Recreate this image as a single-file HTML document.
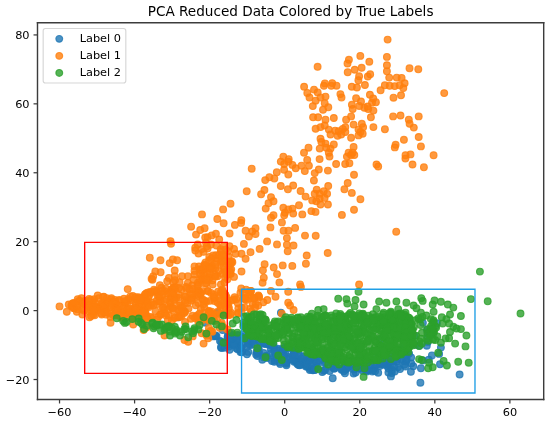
<!DOCTYPE html>
<html><head><meta charset="utf-8"><title>PCA Reduced Data Colored by True Labels</title>
<style>html,body{margin:0;padding:0;background:#fff;width:550px;height:424px;overflow:hidden}svg{display:block}text{font-family:"DejaVu Sans","Liberation Sans",sans-serif}</style>
</head><body>
<svg width="550px" height="424px" viewBox="0 0 485.294118 374.117647" version="1.1">
 
 <defs>
  <style type="text/css">*{stroke-linejoin: round; stroke-linecap: butt}</style>
 </defs>
 <g id="figure_1">
  <g id="patch_1">
   <path d="M 0 374.117647 
L 485.294118 374.117647 
L 485.294118 0 
L 0 0 
z
" style="fill: #ffffff"/>
  </g>
  <g id="axes_1">
   <g id="patch_2">
    <path d="M 33.088235 352.5 
L 479.735294 352.5 
L 479.735294 20.117647 
L 33.088235 20.117647 
z
" style="fill: #ffffff"/>
   </g>
   <defs>
     <path id="m00aa279ec9" d="M 0 3 
C 0.795609 3 1.55874 2.683901 2.12132 2.12132 
C 2.683901 1.55874 3 0.795609 3 0 
C 3 -0.795609 2.683901 -1.55874 2.12132 -2.12132 
C 1.55874 -2.683901 0.795609 -3 0 -3 
C -0.795609 -3 -1.55874 -2.683901 -2.12132 -2.12132 
C -2.683901 -1.55874 -3 -0.795609 -3 0 
C -3 0.795609 -2.683901 1.55874 -2.12132 2.12132 
C -1.55874 2.683901 -0.795609 3 0 3 
z
" style="stroke: #1f77b4; stroke-opacity: 0.8"/>
    </defs><g clip-path="url(#p1e4c1212a1)" style="fill:#1f77b4;fill-opacity:0.8;stroke:#1f77b4;stroke-opacity:0.8"><circle cx="157.24" cy="279.97" r="3"/><circle cx="192.54" cy="275.91" r="3"/><circle cx="181.33" cy="284.73" r="3"/><circle cx="187.68" cy="296.82" r="3"/><circle cx="194.12" cy="300.79" r="3"/><circle cx="194.92" cy="306.44" r="3"/><circle cx="208.59" cy="307.23" r="3"/><circle cx="210.89" cy="303.97" r="3"/><circle cx="247.86" cy="275.91" r="3"/><circle cx="385.50" cy="285.26" r="3"/><circle cx="356.12" cy="286.32" r="3"/><circle cx="381.00" cy="293.55" r="3"/><circle cx="356.92" cy="294.35" r="3"/><circle cx="389.03" cy="306.70" r="3"/><circle cx="388.24" cy="321.35" r="3"/><circle cx="405.54" cy="330.44" r="3"/><circle cx="371.39" cy="324.88" r="3"/><circle cx="370.95" cy="337.67" r="3"/><circle cx="344.92" cy="332.11" r="3"/><circle cx="352.95" cy="325.67" r="3"/><circle cx="333.71" cy="328.85" r="3"/><circle cx="293.57" cy="333.70" r="3"/><circle cx="312.01" cy="329.64" r="3"/><circle cx="362.56" cy="328.05" r="3"/><circle cx="360.98" cy="312.00" r="3"/><circle cx="209.25" cy="295.61" r="3"/><circle cx="261.05" cy="318.82" r="3"/><circle cx="345.45" cy="318.05" r="3"/><circle cx="284.39" cy="328.32" r="3"/><circle cx="259.03" cy="309.34" r="3"/><circle cx="364.67" cy="323.15" r="3"/><circle cx="201.38" cy="294.28" r="3"/><circle cx="296.67" cy="315.81" r="3"/><circle cx="227.86" cy="307.18" r="3"/><circle cx="259.54" cy="319.12" r="3"/><circle cx="337.08" cy="317.72" r="3"/><circle cx="217.89" cy="312.61" r="3"/><circle cx="236.89" cy="301.89" r="3"/><circle cx="301.63" cy="325.53" r="3"/><circle cx="259.26" cy="311.89" r="3"/><circle cx="228.34" cy="307.00" r="3"/><circle cx="245.18" cy="311.79" r="3"/><circle cx="249.37" cy="309.77" r="3"/><circle cx="272.96" cy="315.52" r="3"/><circle cx="323.26" cy="326.81" r="3"/><circle cx="329.92" cy="325.06" r="3"/><circle cx="212.24" cy="306.98" r="3"/><circle cx="301.70" cy="325.21" r="3"/><circle cx="227.43" cy="308.88" r="3"/><circle cx="212.22" cy="310.64" r="3"/><circle cx="232.57" cy="311.46" r="3"/><circle cx="234.57" cy="314.00" r="3"/><circle cx="224.89" cy="304.02" r="3"/><circle cx="270.06" cy="319.20" r="3"/><circle cx="258.18" cy="314.51" r="3"/><circle cx="294.48" cy="324.67" r="3"/><circle cx="268.34" cy="319.26" r="3"/><circle cx="344.25" cy="319.48" r="3"/><circle cx="320.17" cy="327.27" r="3"/><circle cx="276.13" cy="325.66" r="3"/><circle cx="362.90" cy="320.71" r="3"/><circle cx="362.77" cy="315.39" r="3"/><circle cx="313.79" cy="328.60" r="3"/><circle cx="252.07" cy="312.59" r="3"/><circle cx="232.85" cy="315.34" r="3"/><circle cx="206.81" cy="302.24" r="3"/><circle cx="307.77" cy="323.50" r="3"/><circle cx="273.36" cy="326.45" r="3"/><circle cx="274.07" cy="325.49" r="3"/><circle cx="228.70" cy="311.38" r="3"/><circle cx="345.65" cy="329.10" r="3"/><circle cx="348.93" cy="312.42" r="3"/><circle cx="285.38" cy="314.48" r="3"/><circle cx="242.66" cy="318.17" r="3"/><circle cx="329.15" cy="326.39" r="3"/><circle cx="235.58" cy="314.34" r="3"/><circle cx="231.42" cy="317.38" r="3"/><circle cx="280.17" cy="323.69" r="3"/><circle cx="279.10" cy="320.67" r="3"/><circle cx="345.78" cy="326.47" r="3"/><circle cx="284.29" cy="316.90" r="3"/><circle cx="225.37" cy="299.39" r="3"/><circle cx="304.77" cy="325.98" r="3"/><circle cx="304.70" cy="319.74" r="3"/><circle cx="204.94" cy="295.04" r="3"/><circle cx="254.67" cy="314.91" r="3"/><circle cx="205.96" cy="302.99" r="3"/><circle cx="245.12" cy="307.74" r="3"/><circle cx="344.21" cy="323.14" r="3"/><circle cx="266.65" cy="321.63" r="3"/><circle cx="303.39" cy="327.54" r="3"/><circle cx="237.12" cy="303.14" r="3"/><circle cx="322.66" cy="323.14" r="3"/><circle cx="330.01" cy="321.16" r="3"/><circle cx="238.88" cy="311.80" r="3"/><circle cx="237.49" cy="304.21" r="3"/><circle cx="234.14" cy="303.29" r="3"/><circle cx="263.46" cy="322.03" r="3"/><circle cx="315.18" cy="322.27" r="3"/><circle cx="250.62" cy="313.85" r="3"/><circle cx="250.90" cy="313.81" r="3"/><circle cx="238.82" cy="307.90" r="3"/><circle cx="281.24" cy="311.82" r="3"/><circle cx="243.97" cy="314.91" r="3"/><circle cx="252.71" cy="322.23" r="3"/><circle cx="323.63" cy="327.90" r="3"/><circle cx="227.36" cy="311.57" r="3"/><circle cx="249.72" cy="310.08" r="3"/><circle cx="220.10" cy="298.93" r="3"/><circle cx="226.01" cy="312.86" r="3"/><circle cx="335.12" cy="323.02" r="3"/><circle cx="210.81" cy="303.57" r="3"/><circle cx="334.50" cy="314.90" r="3"/><circle cx="263.07" cy="311.53" r="3"/><circle cx="263.61" cy="318.45" r="3"/><circle cx="291.45" cy="323.40" r="3"/><circle cx="250.31" cy="309.55" r="3"/><circle cx="271.20" cy="323.54" r="3"/><circle cx="242.45" cy="315.27" r="3"/><circle cx="208.18" cy="298.00" r="3"/><circle cx="359.23" cy="311.13" r="3"/><circle cx="297.12" cy="316.18" r="3"/><circle cx="271.28" cy="321.29" r="3"/><circle cx="246.65" cy="319.93" r="3"/><circle cx="351.16" cy="324.05" r="3"/><circle cx="252.61" cy="320.96" r="3"/><circle cx="226.30" cy="310.59" r="3"/><circle cx="216.87" cy="299.39" r="3"/><circle cx="269.95" cy="323.40" r="3"/><circle cx="330.93" cy="327.47" r="3"/><circle cx="319.82" cy="318.93" r="3"/><circle cx="290.00" cy="312.91" r="3"/><circle cx="357.66" cy="313.46" r="3"/><circle cx="285.54" cy="327.10" r="3"/><circle cx="348.28" cy="327.78" r="3"/><circle cx="265.55" cy="321.33" r="3"/><circle cx="239.97" cy="318.63" r="3"/><circle cx="342.70" cy="328.73" r="3"/><circle cx="296.37" cy="321.14" r="3"/><circle cx="241.99" cy="319.27" r="3"/><circle cx="219.46" cy="302.79" r="3"/><circle cx="311.82" cy="325.80" r="3"/><circle cx="229.77" cy="301.83" r="3"/><circle cx="245.29" cy="309.08" r="3"/><circle cx="206.96" cy="296.90" r="3"/><circle cx="313.45" cy="325.44" r="3"/><circle cx="250.68" cy="307.60" r="3"/><circle cx="235.74" cy="315.93" r="3"/><circle cx="331.61" cy="316.69" r="3"/><circle cx="318.09" cy="321.71" r="3"/><circle cx="342.94" cy="325.16" r="3"/><circle cx="246.58" cy="313.25" r="3"/><circle cx="287.58" cy="320.06" r="3"/><circle cx="291.56" cy="315.40" r="3"/><circle cx="335.33" cy="321.31" r="3"/><circle cx="244.52" cy="313.31" r="3"/><circle cx="262.82" cy="317.81" r="3"/><circle cx="270.44" cy="322.33" r="3"/><circle cx="221.68" cy="304.44" r="3"/><circle cx="277.71" cy="317.19" r="3"/><circle cx="259.97" cy="311.34" r="3"/><circle cx="322.75" cy="318.52" r="3"/><circle cx="295.17" cy="325.08" r="3"/><circle cx="243.40" cy="312.27" r="3"/><circle cx="219.96" cy="303.90" r="3"/><circle cx="310.36" cy="319.93" r="3"/><circle cx="271.82" cy="313.25" r="3"/><circle cx="340.01" cy="319.81" r="3"/><circle cx="317.35" cy="318.75" r="3"/><circle cx="220.54" cy="299.27" r="3"/><circle cx="353.60" cy="310.93" r="3"/><circle cx="331.94" cy="322.16" r="3"/><circle cx="349.92" cy="319.12" r="3"/><circle cx="276.08" cy="326.72" r="3"/><circle cx="310.34" cy="320.14" r="3"/><circle cx="261.11" cy="319.20" r="3"/><circle cx="209.61" cy="308.15" r="3"/><circle cx="289.88" cy="314.36" r="3"/><circle cx="219.05" cy="310.50" r="3"/><circle cx="347.56" cy="323.16" r="3"/><circle cx="242.15" cy="308.29" r="3"/><circle cx="315.89" cy="323.03" r="3"/><circle cx="273.50" cy="321.88" r="3"/><circle cx="358.47" cy="317.95" r="3"/><circle cx="241.31" cy="304.03" r="3"/><circle cx="262.32" cy="321.22" r="3"/><circle cx="228.36" cy="300.89" r="3"/><circle cx="278.81" cy="324.25" r="3"/><circle cx="275.43" cy="322.24" r="3"/><circle cx="255.25" cy="307.20" r="3"/><circle cx="326.84" cy="321.06" r="3"/><circle cx="261.55" cy="308.79" r="3"/><circle cx="212.90" cy="298.78" r="3"/><circle cx="227.15" cy="311.13" r="3"/><circle cx="293.52" cy="313.24" r="3"/><circle cx="320.41" cy="316.56" r="3"/><circle cx="255.29" cy="317.17" r="3"/><circle cx="303.60" cy="319.98" r="3"/><circle cx="266.24" cy="316.32" r="3"/><circle cx="202.37" cy="293.86" r="3"/><circle cx="279.20" cy="319.36" r="3"/><circle cx="318.00" cy="325.15" r="3"/><circle cx="304.68" cy="321.96" r="3"/><circle cx="332.22" cy="317.46" r="3"/><circle cx="249.76" cy="307.36" r="3"/><circle cx="321.37" cy="316.41" r="3"/><circle cx="341.29" cy="323.03" r="3"/><circle cx="281.85" cy="318.28" r="3"/><circle cx="218.43" cy="301.97" r="3"/><circle cx="269.96" cy="320.56" r="3"/><circle cx="336.65" cy="317.23" r="3"/><circle cx="341.83" cy="321.30" r="3"/><circle cx="340.95" cy="319.06" r="3"/><circle cx="218.00" cy="306.23" r="3"/><circle cx="337.86" cy="314.03" r="3"/><circle cx="260.49" cy="308.91" r="3"/><circle cx="241.92" cy="307.14" r="3"/><circle cx="290.92" cy="327.46" r="3"/><circle cx="325.57" cy="326.76" r="3"/><circle cx="293.57" cy="315.14" r="3"/><circle cx="238.74" cy="304.42" r="3"/><circle cx="264.32" cy="322.38" r="3"/><circle cx="350.54" cy="317.14" r="3"/><circle cx="277.62" cy="326.59" r="3"/><circle cx="252.94" cy="319.71" r="3"/><circle cx="247.22" cy="321.13" r="3"/><circle cx="209.20" cy="302.48" r="3"/><circle cx="356.76" cy="321.81" r="3"/><circle cx="322.92" cy="323.35" r="3"/><circle cx="213.59" cy="305.15" r="3"/><circle cx="273.87" cy="315.89" r="3"/><circle cx="324.79" cy="318.68" r="3"/><circle cx="357.76" cy="323.40" r="3"/><circle cx="293.89" cy="322.22" r="3"/><circle cx="258.37" cy="317.46" r="3"/><circle cx="355.08" cy="318.34" r="3"/><circle cx="221.61" cy="297.71" r="3"/><circle cx="293.84" cy="320.42" r="3"/><circle cx="223.29" cy="301.29" r="3"/><circle cx="213.33" cy="310.81" r="3"/><circle cx="295.64" cy="320.99" r="3"/><circle cx="277.71" cy="325.39" r="3"/><circle cx="214.41" cy="295.49" r="3"/><circle cx="305.68" cy="324.76" r="3"/><circle cx="242.42" cy="311.27" r="3"/><circle cx="268.17" cy="314.71" r="3"/><circle cx="334.68" cy="319.88" r="3"/><circle cx="305.72" cy="325.62" r="3"/><circle cx="218.68" cy="298.46" r="3"/><circle cx="259.32" cy="313.28" r="3"/><circle cx="359.06" cy="311.40" r="3"/><circle cx="323.55" cy="320.87" r="3"/><circle cx="311.08" cy="321.12" r="3"/><circle cx="294.87" cy="325.15" r="3"/><circle cx="213.96" cy="297.29" r="3"/><circle cx="243.99" cy="314.05" r="3"/><circle cx="234.00" cy="303.45" r="3"/><circle cx="301.32" cy="326.23" r="3"/><circle cx="316.68" cy="316.71" r="3"/><circle cx="218.06" cy="299.05" r="3"/><circle cx="321.89" cy="323.51" r="3"/><circle cx="353.75" cy="316.70" r="3"/><circle cx="358.42" cy="318.84" r="3"/><circle cx="211.49" cy="307.49" r="3"/><circle cx="286.77" cy="326.49" r="3"/><circle cx="340.45" cy="315.13" r="3"/><circle cx="316.44" cy="324.25" r="3"/><circle cx="358.76" cy="316.06" r="3"/><circle cx="316.57" cy="319.69" r="3"/><circle cx="328.55" cy="327.74" r="3"/><circle cx="246.08" cy="314.43" r="3"/><circle cx="321.28" cy="325.53" r="3"/><circle cx="293.06" cy="317.97" r="3"/><circle cx="336.33" cy="317.56" r="3"/><circle cx="273.46" cy="312.73" r="3"/><circle cx="265.87" cy="314.09" r="3"/><circle cx="203.39" cy="295.53" r="3"/><circle cx="340.56" cy="317.35" r="3"/><circle cx="202.71" cy="301.36" r="3"/><circle cx="286.24" cy="320.36" r="3"/><circle cx="251.78" cy="306.57" r="3"/><circle cx="304.36" cy="329.40" r="3"/><circle cx="272.67" cy="318.33" r="3"/><circle cx="274.63" cy="315.38" r="3"/><circle cx="296.84" cy="321.38" r="3"/><circle cx="273.35" cy="312.12" r="3"/><circle cx="249.13" cy="315.08" r="3"/><circle cx="202.13" cy="293.70" r="3"/><circle cx="232.60" cy="302.34" r="3"/><circle cx="277.18" cy="313.97" r="3"/><circle cx="227.09" cy="314.15" r="3"/><circle cx="213.07" cy="306.75" r="3"/><circle cx="338.48" cy="321.68" r="3"/><circle cx="279.33" cy="313.97" r="3"/><circle cx="342.33" cy="316.15" r="3"/><circle cx="190.11" cy="296.70" r="3"/><circle cx="200.91" cy="297.00" r="3"/><circle cx="200.87" cy="298.02" r="3"/><circle cx="195.56" cy="307.08" r="3"/><circle cx="197.88" cy="306.79" r="3"/><circle cx="201.83" cy="305.85" r="3"/><circle cx="204.10" cy="298.52" r="3"/><circle cx="205.26" cy="303.49" r="3"/><circle cx="208.78" cy="298.35" r="3"/><circle cx="200.98" cy="304.24" r="3"/><circle cx="200.64" cy="301.45" r="3"/><circle cx="203.42" cy="302.04" r="3"/><circle cx="205.93" cy="304.70" r="3"/><circle cx="191.03" cy="296.59" r="3"/><circle cx="202.56" cy="308.71" r="3"/><circle cx="211.09" cy="300.09" r="3"/><circle cx="190.32" cy="296.10" r="3"/><circle cx="210.83" cy="295.84" r="3"/><circle cx="201.58" cy="295.76" r="3"/><circle cx="202.89" cy="298.85" r="3"/><circle cx="196.38" cy="291.26" r="3"/><circle cx="195.32" cy="301.46" r="3"/><circle cx="362.54" cy="298.80" r="3"/><circle cx="365.58" cy="296.25" r="3"/><circle cx="362.79" cy="303.58" r="3"/><circle cx="373.15" cy="318.06" r="3"/><circle cx="347.21" cy="318.52" r="3"/><circle cx="387.46" cy="312.25" r="3"/><circle cx="373.15" cy="284.88" r="3"/><circle cx="376.60" cy="305.00" r="3"/><circle cx="348.52" cy="291.32" r="3"/><circle cx="352.96" cy="294.25" r="3"/><circle cx="356.44" cy="302.02" r="3"/><circle cx="377.14" cy="297.09" r="3"/><circle cx="336.79" cy="307.95" r="3"/><circle cx="335.39" cy="299.82" r="3"/><circle cx="369.97" cy="305.14" r="3"/><circle cx="378.35" cy="317.35" r="3"/><circle cx="352.93" cy="309.23" r="3"/><circle cx="381.09" cy="313.61" r="3"/><circle cx="377.50" cy="301.68" r="3"/><circle cx="376.82" cy="291.10" r="3"/><circle cx="362.47" cy="302.58" r="3"/><circle cx="343.23" cy="314.37" r="3"/><circle cx="358.78" cy="297.11" r="3"/><circle cx="366.33" cy="304.26" r="3"/><circle cx="353.24" cy="308.05" r="3"/></g>
   <defs>
     <path id="mf7519e3ce1" d="M 0 3 
C 0.795609 3 1.55874 2.683901 2.12132 2.12132 
C 2.683901 1.55874 3 0.795609 3 0 
C 3 -0.795609 2.683901 -1.55874 2.12132 -2.12132 
C 1.55874 -2.683901 0.795609 -3 0 -3 
C -0.795609 -3 -1.55874 -2.683901 -2.12132 -2.12132 
C -2.683901 -1.55874 -3 -0.795609 -3 0 
C -3 0.795609 -2.683901 1.55874 -2.12132 2.12132 
C -1.55874 2.683901 -0.795609 3 0 3 
z
" style="stroke: #ff7f0e; stroke-opacity: 0.8"/>
    </defs><g clip-path="url(#p1e4c1212a1)" style="fill:#ff7f0e;fill-opacity:0.8;stroke:#ff7f0e;stroke-opacity:0.8"><circle cx="321.53" cy="95.12" r="3"/><circle cx="324.89" cy="96.27" r="3"/><circle cx="317.03" cy="93.45" r="3"/><circle cx="328.24" cy="90.62" r="3"/><circle cx="314.21" cy="86.74" r="3"/><circle cx="295.68" cy="115.33" r="3"/><circle cx="302.39" cy="113.74" r="3"/><circle cx="304.68" cy="116.48" r="3"/><circle cx="297.89" cy="119.83" r="3"/><circle cx="318.09" cy="116.48" r="3"/><circle cx="320.39" cy="112.24" r="3"/><circle cx="280.24" cy="58.95" r="3"/><circle cx="307.86" cy="52.77" r="3"/><circle cx="306.62" cy="56.04" r="3"/><circle cx="317.92" cy="49.33" r="3"/><circle cx="325.86" cy="54.45" r="3"/><circle cx="306.80" cy="63.71" r="3"/><circle cx="312.98" cy="61.51" r="3"/><circle cx="319.06" cy="59.83" r="3"/><circle cx="316.86" cy="67.33" r="3"/><circle cx="316.24" cy="70.77" r="3"/><circle cx="324.53" cy="67.51" r="3"/><circle cx="321.98" cy="75.01" r="3"/><circle cx="286.68" cy="73.59" r="3"/><circle cx="293.13" cy="73.33" r="3"/><circle cx="296.92" cy="75.62" r="3"/><circle cx="268.33" cy="76.51" r="3"/><circle cx="277.07" cy="79.07" r="3"/><circle cx="310.42" cy="76.51" r="3"/><circle cx="314.92" cy="77.21" r="3"/><circle cx="342.01" cy="34.95" r="3"/><circle cx="341.39" cy="50.21" r="3"/><circle cx="341.39" cy="57.54" r="3"/><circle cx="341.39" cy="62.92" r="3"/><circle cx="343.42" cy="68.48" r="3"/><circle cx="326.65" cy="65.57" r="3"/><circle cx="361.33" cy="60.27" r="3"/><circle cx="369.09" cy="61.15" r="3"/><circle cx="350.04" cy="68.48" r="3"/><circle cx="354.36" cy="68.74" r="3"/><circle cx="357.01" cy="73.42" r="3"/><circle cx="339.54" cy="75.27" r="3"/><circle cx="343.86" cy="75.71" r="3"/><circle cx="348.27" cy="75.98" r="3"/><circle cx="352.60" cy="75.27" r="3"/><circle cx="355.86" cy="77.74" r="3"/><circle cx="335.83" cy="79.68" r="3"/><circle cx="353.83" cy="84.01" r="3"/><circle cx="347.21" cy="86.21" r="3"/><circle cx="326.39" cy="83.57" r="3"/><circle cx="329.30" cy="86.92" r="3"/><circle cx="391.95" cy="82.15" r="3"/><circle cx="271.15" cy="81.98" r="3"/><circle cx="273.09" cy="85.95" r="3"/><circle cx="280.33" cy="81.53" r="3"/><circle cx="278.48" cy="88.86" r="3"/><circle cx="276.01" cy="93.62" r="3"/><circle cx="282.80" cy="85.95" r="3"/><circle cx="287.21" cy="85.24" r="3"/><circle cx="286.51" cy="91.06" r="3"/><circle cx="289.68" cy="94.68" r="3"/><circle cx="285.01" cy="96.89" r="3"/><circle cx="285.80" cy="75.71" r="3"/><circle cx="292.33" cy="75.71" r="3"/><circle cx="300.36" cy="83.04" r="3"/><circle cx="301.33" cy="85.95" r="3"/><circle cx="310.51" cy="92.48" r="3"/><circle cx="311.21" cy="96.18" r="3"/><circle cx="318.53" cy="89.56" r="3"/><circle cx="324.36" cy="93.98" r="3"/><circle cx="331.68" cy="90.27" r="3"/><circle cx="329.48" cy="97.59" r="3"/><circle cx="327.27" cy="103.42" r="3"/><circle cx="276.27" cy="103.42" r="3"/><circle cx="280.68" cy="103.42" r="3"/><circle cx="287.21" cy="105.62" r="3"/><circle cx="294.54" cy="104.12" r="3"/><circle cx="305.39" cy="105.62" r="3"/><circle cx="309.80" cy="102.71" r="3"/><circle cx="312.01" cy="109.94" r="3"/><circle cx="319.24" cy="109.24" r="3"/><circle cx="316.33" cy="114.36" r="3"/><circle cx="320.03" cy="117.97" r="3"/><circle cx="316.33" cy="119.47" r="3"/><circle cx="329.48" cy="112.15" r="3"/><circle cx="278.48" cy="113.65" r="3"/><circle cx="282.80" cy="112.15" r="3"/><circle cx="286.51" cy="110.74" r="3"/><circle cx="290.13" cy="114.36" r="3"/><circle cx="291.63" cy="118.68" r="3"/><circle cx="298.86" cy="115.77" r="3"/><circle cx="304.68" cy="112.15" r="3"/><circle cx="301.07" cy="118.68" r="3"/><circle cx="309.80" cy="121.59" r="3"/><circle cx="282.80" cy="122.39" r="3"/><circle cx="283.60" cy="125.30" r="3"/><circle cx="287.21" cy="126.71" r="3"/><circle cx="294.54" cy="127.42" r="3"/><circle cx="291.63" cy="131.12" r="3"/><circle cx="287.92" cy="130.33" r="3"/><circle cx="282.10" cy="131.12" r="3"/><circle cx="272.21" cy="130.33" r="3"/><circle cx="268.24" cy="134.74" r="3"/><circle cx="312.01" cy="129.62" r="3"/><circle cx="307.59" cy="134.74" r="3"/><circle cx="311.21" cy="134.74" r="3"/><circle cx="290.13" cy="134.74" r="3"/><circle cx="346.86" cy="102.71" r="3"/><circle cx="353.39" cy="101.92" r="3"/><circle cx="360.71" cy="105.62" r="3"/><circle cx="361.42" cy="109.24" r="3"/><circle cx="365.12" cy="112.59" r="3"/><circle cx="369.45" cy="102.71" r="3"/><circle cx="339.62" cy="114.09" r="3"/><circle cx="356.39" cy="123.36" r="3"/><circle cx="369.45" cy="120.89" r="3"/><circle cx="349.07" cy="127.77" r="3"/><circle cx="348.36" cy="130.06" r="3"/><circle cx="371.39" cy="129.18" r="3"/><circle cx="362.21" cy="136.24" r="3"/><circle cx="357.80" cy="136.94" r="3"/><circle cx="382.59" cy="136.94" r="3"/><circle cx="249.98" cy="138.18" r="3"/><circle cx="247.77" cy="142.59" r="3"/><circle cx="254.39" cy="142.59" r="3"/><circle cx="258.01" cy="145.50" r="3"/><circle cx="260.92" cy="148.42" r="3"/><circle cx="250.68" cy="149.83" r="3"/><circle cx="254.39" cy="153.89" r="3"/><circle cx="271.06" cy="141.09" r="3"/><circle cx="272.56" cy="146.21" r="3"/><circle cx="266.03" cy="146.21" r="3"/><circle cx="268.95" cy="150.97" r="3"/><circle cx="290.74" cy="138.18" r="3"/><circle cx="282.01" cy="140.39" r="3"/><circle cx="296.57" cy="144.71" r="3"/><circle cx="281.30" cy="149.56" r="3"/><circle cx="277.68" cy="152.74" r="3"/><circle cx="289.33" cy="150.53" r="3"/><circle cx="276.98" cy="159.27" r="3"/><circle cx="306.09" cy="138.18" r="3"/><circle cx="309.71" cy="136.77" r="3"/><circle cx="312.62" cy="136.77" r="3"/><circle cx="304.59" cy="144.71" r="3"/><circle cx="308.30" cy="144.00" r="3"/><circle cx="312.36" cy="154.24" r="3"/><circle cx="306.80" cy="161.47" r="3"/><circle cx="303.89" cy="167.03" r="3"/><circle cx="310.42" cy="170.21" r="3"/><circle cx="318.01" cy="175.77" r="3"/><circle cx="312.36" cy="185.12" r="3"/><circle cx="301.68" cy="189.62" r="3"/><circle cx="247.77" cy="164.12" r="3"/><circle cx="258.71" cy="163.68" r="3"/><circle cx="254.04" cy="167.03" r="3"/><circle cx="265.24" cy="168.53" r="3"/><circle cx="269.65" cy="173.47" r="3"/><circle cx="279.45" cy="167.30" r="3"/><circle cx="289.60" cy="164.12" r="3"/><circle cx="277.68" cy="171.00" r="3"/><circle cx="282.01" cy="171.00" r="3"/><circle cx="285.71" cy="168.80" r="3"/><circle cx="288.63" cy="171.00" r="3"/><circle cx="286.42" cy="174.62" r="3"/><circle cx="282.01" cy="175.33" r="3"/><circle cx="275.48" cy="176.83" r="3"/><circle cx="279.10" cy="177.53" r="3"/><circle cx="282.80" cy="180.44" r="3"/><circle cx="289.33" cy="180.44" r="3"/><circle cx="263.83" cy="181.15" r="3"/><circle cx="249.98" cy="183.35" r="3"/><circle cx="254.39" cy="184.77" r="3"/><circle cx="258.01" cy="184.06" r="3"/><circle cx="258.71" cy="188.47" r="3"/><circle cx="251.48" cy="187.68" r="3"/><circle cx="266.74" cy="189.18" r="3"/><circle cx="274.77" cy="186.27" r="3"/><circle cx="278.39" cy="186.97" r="3"/><circle cx="332.21" cy="145.15" r="3"/><circle cx="333.71" cy="146.91" r="3"/><circle cx="357.71" cy="139.94" r="3"/><circle cx="363.98" cy="145.15" r="3"/><circle cx="374.03" cy="147.62" r="3"/><circle cx="250.77" cy="144.71" r="3"/><circle cx="222.10" cy="148.86" r="3"/><circle cx="244.24" cy="152.03" r="3"/><circle cx="242.04" cy="157.42" r="3"/><circle cx="237.71" cy="156.35" r="3"/><circle cx="234.01" cy="158.91" r="3"/><circle cx="217.68" cy="168.80" r="3"/><circle cx="233.30" cy="167.65" r="3"/><circle cx="230.39" cy="171.44" r="3"/><circle cx="239.13" cy="173.91" r="3"/><circle cx="241.33" cy="177.53" r="3"/><circle cx="236.92" cy="179.29" r="3"/><circle cx="234.45" cy="184.06" r="3"/><circle cx="250.77" cy="189.88" r="3"/><circle cx="241.33" cy="189.88" r="3"/><circle cx="239.13" cy="192.09" r="3"/><circle cx="203.39" cy="179.74" r="3"/><circle cx="196.86" cy="184.77" r="3"/><circle cx="178.24" cy="189.18" r="3"/><circle cx="191.74" cy="193.23" r="3"/><circle cx="212.92" cy="194.30" r="3"/><circle cx="254.74" cy="140.47" r="3"/><circle cx="168.63" cy="200.03" r="3"/><circle cx="176.66" cy="202.94" r="3"/><circle cx="180.54" cy="201.44" r="3"/><circle cx="172.95" cy="207.00" r="3"/><circle cx="150.45" cy="212.82" r="3"/><circle cx="150.89" cy="215.03" r="3"/><circle cx="183.18" cy="209.21" r="3"/><circle cx="186.80" cy="207.71" r="3"/><circle cx="190.51" cy="206.29" r="3"/><circle cx="193.42" cy="211.32" r="3"/><circle cx="172.24" cy="218.65" r="3"/><circle cx="174.45" cy="215.73" r="3"/><circle cx="175.16" cy="223.76" r="3"/><circle cx="179.57" cy="222.27" r="3"/><circle cx="183.18" cy="219.35" r="3"/><circle cx="186.10" cy="215.73" r="3"/><circle cx="181.77" cy="214.24" r="3"/><circle cx="184.68" cy="226.68" r="3"/><circle cx="190.51" cy="225.17" r="3"/><circle cx="132.18" cy="227.38" r="3"/><circle cx="141.62" cy="229.59" r="3"/><circle cx="152.56" cy="228.88" r="3"/><circle cx="156.27" cy="229.59" r="3"/><circle cx="149.74" cy="232.15" r="3"/><circle cx="154.15" cy="238.67" r="3"/><circle cx="141.71" cy="240.18" r="3"/><circle cx="135.18" cy="243.79" r="3"/><circle cx="133.77" cy="246.00" r="3"/><circle cx="181.07" cy="209.56" r="3"/><circle cx="190.60" cy="227.74" r="3"/><circle cx="194.92" cy="221.91" r="3"/><circle cx="197.83" cy="226.32" r="3"/><circle cx="171.63" cy="235.06" r="3"/><circle cx="175.95" cy="237.97" r="3"/><circle cx="180.36" cy="233.56" r="3"/><circle cx="187.68" cy="236.47" r="3"/><circle cx="194.92" cy="232.15" r="3"/><circle cx="197.83" cy="237.97" r="3"/><circle cx="192.01" cy="243.79" r="3"/><circle cx="184.77" cy="245.21" r="3"/><circle cx="178.16" cy="243.79" r="3"/><circle cx="171.63" cy="242.29" r="3"/><circle cx="165.80" cy="243.79" r="3"/><circle cx="160.68" cy="243.79" r="3"/><circle cx="154.15" cy="243.79" r="3"/><circle cx="149.04" cy="245.21" r="3"/><circle cx="147.54" cy="248.12" r="3"/><circle cx="152.65" cy="248.91" r="3"/><circle cx="158.48" cy="248.91" r="3"/><circle cx="165.80" cy="249.62" r="3"/><circle cx="175.24" cy="251.03" r="3"/><circle cx="181.07" cy="250.32" r="3"/><circle cx="187.68" cy="251.03" r="3"/><circle cx="194.92" cy="251.03" r="3"/><circle cx="142.51" cy="253.94" r="3"/><circle cx="138.10" cy="256.85" r="3"/><circle cx="132.27" cy="257.56" r="3"/><circle cx="127.95" cy="259.76" r="3"/><circle cx="124.24" cy="262.68" r="3"/><circle cx="145.42" cy="256.85" r="3"/><circle cx="151.24" cy="255.44" r="3"/><circle cx="159.98" cy="255.44" r="3"/><circle cx="167.21" cy="255.44" r="3"/><circle cx="173.04" cy="257.64" r="3"/><circle cx="178.86" cy="256.85" r="3"/><circle cx="183.27" cy="256.85" r="3"/><circle cx="196.42" cy="256.85" r="3"/><circle cx="189.10" cy="263.47" r="3"/><circle cx="197.83" cy="265.59" r="3"/><circle cx="129.36" cy="265.59" r="3"/><circle cx="138.10" cy="265.59" r="3"/><circle cx="146.83" cy="264.17" r="3"/><circle cx="155.57" cy="262.68" r="3"/><circle cx="170.13" cy="262.68" r="3"/><circle cx="178.86" cy="264.17" r="3"/><circle cx="162.89" cy="261.26" r="3"/><circle cx="52.51" cy="270.35" r="3"/><circle cx="58.95" cy="275.11" r="3"/><circle cx="63.01" cy="269.56" r="3"/><circle cx="68.57" cy="263.91" r="3"/><circle cx="71.83" cy="263.12" r="3"/><circle cx="67.77" cy="275.11" r="3"/><circle cx="72.63" cy="277.50" r="3"/><circle cx="78.98" cy="279.97" r="3"/><circle cx="86.21" cy="260.73" r="3"/><circle cx="83.04" cy="263.91" r="3"/><circle cx="94.24" cy="263.12" r="3"/><circle cx="98.30" cy="263.12" r="3"/><circle cx="112.69" cy="255.09" r="3"/><circle cx="97.51" cy="284.73" r="3"/><circle cx="117.54" cy="286.32" r="3"/><circle cx="105.45" cy="265.50" r="3"/><circle cx="129.45" cy="288.79" r="3"/><circle cx="130.16" cy="258.26" r="3"/><circle cx="145.15" cy="296.03" r="3"/><circle cx="162.80" cy="300.00" r="3"/><circle cx="166.07" cy="301.58" r="3"/><circle cx="170.04" cy="296.82" r="3"/><circle cx="179.66" cy="303.17" r="3"/><circle cx="183.71" cy="298.41" r="3"/><circle cx="126.71" cy="291.17" r="3"/><circle cx="197.30" cy="197.03" r="3"/><circle cx="202.59" cy="206.03" r="3"/><circle cx="207.27" cy="198.44" r="3"/><circle cx="216.71" cy="203.56" r="3"/><circle cx="219.62" cy="208.68" r="3"/><circle cx="222.54" cy="204.27" r="3"/><circle cx="225.45" cy="201.35" r="3"/><circle cx="225.45" cy="206.47" r="3"/><circle cx="215.21" cy="215.21" r="3"/><circle cx="206.48" cy="219.62" r="3"/><circle cx="207.98" cy="223.94" r="3"/><circle cx="213.09" cy="223.94" r="3"/><circle cx="216.71" cy="228.35" r="3"/><circle cx="221.04" cy="222.53" r="3"/><circle cx="229.07" cy="219.62" r="3"/><circle cx="235.68" cy="213.00" r="3"/><circle cx="244.42" cy="215.65" r="3"/><circle cx="238.60" cy="200.65" r="3"/><circle cx="248.74" cy="196.24" r="3"/><circle cx="250.24" cy="203.56" r="3"/><circle cx="254.57" cy="203.56" r="3"/><circle cx="260.39" cy="201.09" r="3"/><circle cx="269.12" cy="207.88" r="3"/><circle cx="253.15" cy="210.09" r="3"/><circle cx="253.15" cy="215.91" r="3"/><circle cx="258.98" cy="216.62" r="3"/><circle cx="253.86" cy="221.74" r="3"/><circle cx="270.62" cy="225.44" r="3"/><circle cx="269.92" cy="232.68" r="3"/><circle cx="233.48" cy="233.12" r="3"/><circle cx="231.98" cy="238.50" r="3"/><circle cx="232.77" cy="245.03" r="3"/><circle cx="231.71" cy="249.44" r="3"/><circle cx="241.51" cy="236.03" r="3"/><circle cx="244.42" cy="241.85" r="3"/><circle cx="249.45" cy="234.17" r="3"/><circle cx="257.92" cy="234.62" r="3"/><circle cx="246.54" cy="249.18" r="3"/><circle cx="264.80" cy="250.94" r="3"/><circle cx="213.09" cy="239.56" r="3"/><circle cx="206.48" cy="244.32" r="3"/><circle cx="202.86" cy="237.79" r="3"/><circle cx="204.36" cy="230.47" r="3"/><circle cx="278.57" cy="208.06" r="3"/><circle cx="349.60" cy="204.44" r="3"/><circle cx="289.16" cy="223.24" r="3"/><circle cx="316.86" cy="251.03" r="3"/><circle cx="212.74" cy="196.68" r="3"/><circle cx="202.51" cy="217.24" r="3"/><circle cx="203.74" cy="232.59" r="3"/><circle cx="203.12" cy="240.35" r="3"/><circle cx="172.33" cy="221.03" r="3"/><circle cx="178.07" cy="219.79" r="3"/><circle cx="182.57" cy="217.24" r="3"/><circle cx="190.95" cy="216.62" r="3"/><circle cx="194.74" cy="219.79" r="3"/><circle cx="197.30" cy="217.24" r="3"/><circle cx="193.51" cy="224.91" r="3"/><circle cx="190.95" cy="230.03" r="3"/><circle cx="197.30" cy="235.15" r="3"/><circle cx="190.24" cy="236.47" r="3"/><circle cx="186.45" cy="234.53" r="3"/><circle cx="175.51" cy="235.15" r="3"/><circle cx="181.33" cy="236.47" r="3"/><circle cx="178.07" cy="239.03" r="3"/><circle cx="171.63" cy="239.03" r="3"/><circle cx="183.18" cy="241.59" r="3"/><circle cx="189.63" cy="242.20" r="3"/><circle cx="196.07" cy="241.59" r="3"/><circle cx="198.62" cy="244.85" r="3"/><circle cx="265.51" cy="253.14" r="3"/><circle cx="221.39" cy="256.67" r="3"/><circle cx="239.04" cy="256.67" r="3"/><circle cx="243.10" cy="261.79" r="3"/><circle cx="254.30" cy="257.47" r="3"/><circle cx="235.86" cy="264.70" r="3"/><circle cx="224.57" cy="263.12" r="3"/><circle cx="228.63" cy="262.32" r="3"/><circle cx="254.30" cy="267.08" r="3"/><circle cx="255.89" cy="269.56" r="3"/><circle cx="259.06" cy="273.53" r="3"/><circle cx="248.65" cy="276.70" r="3"/><circle cx="227.83" cy="269.56" r="3"/><circle cx="222.98" cy="268.67" r="3"/><circle cx="217.42" cy="264.70" r="3"/><circle cx="215.74" cy="271.14" r="3"/><circle cx="134.09" cy="280.66" r="3"/><circle cx="180.36" cy="242.93" r="3"/><circle cx="169.49" cy="251.92" r="3"/><circle cx="107.42" cy="269.37" r="3"/><circle cx="199.98" cy="264.93" r="3"/><circle cx="150.45" cy="268.55" r="3"/><circle cx="148.91" cy="278.35" r="3"/><circle cx="153.06" cy="273.84" r="3"/><circle cx="182.14" cy="249.92" r="3"/><circle cx="133.95" cy="266.90" r="3"/><circle cx="80.79" cy="271.54" r="3"/><circle cx="159.21" cy="269.27" r="3"/><circle cx="87.19" cy="270.34" r="3"/><circle cx="184.39" cy="274.45" r="3"/><circle cx="187.51" cy="247.31" r="3"/><circle cx="153.70" cy="264.59" r="3"/><circle cx="181.51" cy="234.06" r="3"/><circle cx="177.04" cy="281.58" r="3"/><circle cx="190.18" cy="243.88" r="3"/><circle cx="157.77" cy="278.47" r="3"/><circle cx="180.23" cy="276.14" r="3"/><circle cx="114.85" cy="264.97" r="3"/><circle cx="186.16" cy="258.47" r="3"/><circle cx="177.81" cy="238.24" r="3"/><circle cx="205.03" cy="231.37" r="3"/><circle cx="96.89" cy="267.60" r="3"/><circle cx="145.03" cy="272.94" r="3"/><circle cx="201.45" cy="268.41" r="3"/><circle cx="175.00" cy="267.33" r="3"/><circle cx="146.57" cy="278.38" r="3"/><circle cx="133.25" cy="269.13" r="3"/><circle cx="102.34" cy="268.00" r="3"/><circle cx="200.46" cy="242.41" r="3"/><circle cx="102.37" cy="273.45" r="3"/><circle cx="77.36" cy="265.55" r="3"/><circle cx="93.09" cy="273.05" r="3"/><circle cx="150.71" cy="262.76" r="3"/><circle cx="117.06" cy="280.00" r="3"/><circle cx="201.44" cy="234.31" r="3"/><circle cx="89.78" cy="277.49" r="3"/><circle cx="183.48" cy="256.63" r="3"/><circle cx="177.19" cy="258.35" r="3"/><circle cx="112.25" cy="267.44" r="3"/><circle cx="175.08" cy="256.59" r="3"/><circle cx="185.28" cy="265.46" r="3"/><circle cx="138.22" cy="268.36" r="3"/><circle cx="136.64" cy="257.04" r="3"/><circle cx="157.95" cy="254.18" r="3"/><circle cx="80.22" cy="264.42" r="3"/><circle cx="125.19" cy="281.14" r="3"/><circle cx="198.88" cy="269.93" r="3"/><circle cx="157.49" cy="273.31" r="3"/><circle cx="167.65" cy="259.77" r="3"/><circle cx="122.03" cy="262.17" r="3"/><circle cx="126.98" cy="276.07" r="3"/><circle cx="108.81" cy="275.36" r="3"/><circle cx="194.88" cy="257.79" r="3"/><circle cx="151.66" cy="257.38" r="3"/><circle cx="63.83" cy="270.69" r="3"/><circle cx="174.37" cy="278.21" r="3"/><circle cx="157.31" cy="262.71" r="3"/><circle cx="153.70" cy="280.41" r="3"/><circle cx="110.30" cy="267.05" r="3"/><circle cx="200.71" cy="246.34" r="3"/><circle cx="117.61" cy="280.42" r="3"/><circle cx="154.16" cy="255.18" r="3"/><circle cx="100.60" cy="271.88" r="3"/><circle cx="177.23" cy="272.35" r="3"/><circle cx="90.35" cy="268.68" r="3"/><circle cx="99.82" cy="278.03" r="3"/><circle cx="180.34" cy="271.06" r="3"/><circle cx="194.46" cy="260.72" r="3"/><circle cx="114.95" cy="261.51" r="3"/><circle cx="160.38" cy="272.48" r="3"/><circle cx="111.48" cy="280.27" r="3"/><circle cx="178.13" cy="282.69" r="3"/><circle cx="128.93" cy="258.98" r="3"/><circle cx="178.34" cy="246.94" r="3"/><circle cx="201.81" cy="226.28" r="3"/><circle cx="204.38" cy="265.04" r="3"/><circle cx="120.12" cy="263.78" r="3"/><circle cx="128.37" cy="270.17" r="3"/><circle cx="153.30" cy="253.62" r="3"/><circle cx="186.53" cy="228.17" r="3"/><circle cx="164.01" cy="253.20" r="3"/><circle cx="121.11" cy="278.36" r="3"/><circle cx="184.49" cy="229.81" r="3"/><circle cx="83.52" cy="278.23" r="3"/><circle cx="82.16" cy="267.19" r="3"/><circle cx="140.23" cy="278.95" r="3"/><circle cx="97.80" cy="264.19" r="3"/><circle cx="200.36" cy="267.58" r="3"/><circle cx="163.03" cy="264.82" r="3"/><circle cx="150.92" cy="270.37" r="3"/><circle cx="189.23" cy="277.55" r="3"/><circle cx="189.73" cy="243.63" r="3"/><circle cx="101.42" cy="268.83" r="3"/><circle cx="112.30" cy="275.94" r="3"/><circle cx="173.05" cy="279.21" r="3"/><circle cx="175.10" cy="261.48" r="3"/><circle cx="83.73" cy="266.65" r="3"/><circle cx="96.51" cy="266.42" r="3"/><circle cx="189.15" cy="265.53" r="3"/><circle cx="128.17" cy="275.17" r="3"/><circle cx="119.72" cy="262.28" r="3"/><circle cx="106.94" cy="280.26" r="3"/><circle cx="65.35" cy="272.02" r="3"/><circle cx="196.12" cy="277.28" r="3"/><circle cx="163.84" cy="261.51" r="3"/><circle cx="164.53" cy="254.48" r="3"/><circle cx="174.61" cy="249.40" r="3"/><circle cx="192.16" cy="267.03" r="3"/><circle cx="85.09" cy="271.74" r="3"/><circle cx="72.30" cy="272.55" r="3"/><circle cx="122.75" cy="275.11" r="3"/><circle cx="195.38" cy="230.64" r="3"/><circle cx="185.99" cy="278.18" r="3"/><circle cx="151.67" cy="282.79" r="3"/><circle cx="166.35" cy="272.30" r="3"/><circle cx="190.18" cy="233.37" r="3"/><circle cx="203.64" cy="241.62" r="3"/><circle cx="179.45" cy="237.89" r="3"/><circle cx="171.94" cy="280.65" r="3"/><circle cx="141.51" cy="277.55" r="3"/><circle cx="185.32" cy="278.66" r="3"/><circle cx="196.08" cy="255.52" r="3"/><circle cx="184.50" cy="244.57" r="3"/><circle cx="148.37" cy="272.71" r="3"/><circle cx="144.14" cy="271.16" r="3"/><circle cx="174.98" cy="284.01" r="3"/><circle cx="176.18" cy="276.53" r="3"/><circle cx="202.39" cy="240.04" r="3"/><circle cx="123.02" cy="270.66" r="3"/><circle cx="93.50" cy="273.63" r="3"/><circle cx="151.66" cy="271.55" r="3"/><circle cx="195.76" cy="225.72" r="3"/><circle cx="179.53" cy="268.49" r="3"/><circle cx="199.31" cy="239.64" r="3"/><circle cx="101.45" cy="264.60" r="3"/><circle cx="147.49" cy="259.03" r="3"/><circle cx="122.46" cy="276.23" r="3"/><circle cx="181.53" cy="279.47" r="3"/><circle cx="124.44" cy="265.30" r="3"/><circle cx="154.61" cy="280.35" r="3"/><circle cx="92.54" cy="268.20" r="3"/><circle cx="162.41" cy="274.61" r="3"/><circle cx="80.56" cy="274.47" r="3"/><circle cx="199.16" cy="220.25" r="3"/><circle cx="105.29" cy="264.57" r="3"/><circle cx="186.73" cy="274.94" r="3"/><circle cx="126.62" cy="262.39" r="3"/><circle cx="185.48" cy="241.65" r="3"/><circle cx="163.38" cy="267.02" r="3"/><circle cx="169.03" cy="263.60" r="3"/><circle cx="86.26" cy="272.04" r="3"/><circle cx="176.43" cy="237.60" r="3"/><circle cx="138.72" cy="257.95" r="3"/><circle cx="150.18" cy="266.84" r="3"/><circle cx="163.36" cy="275.20" r="3"/><circle cx="176.46" cy="259.19" r="3"/><circle cx="176.53" cy="242.36" r="3"/><circle cx="125.07" cy="278.84" r="3"/><circle cx="201.62" cy="278.07" r="3"/><circle cx="98.01" cy="276.60" r="3"/><circle cx="195.51" cy="269.57" r="3"/><circle cx="115.79" cy="274.22" r="3"/><circle cx="176.83" cy="246.64" r="3"/><circle cx="121.32" cy="264.54" r="3"/><circle cx="197.68" cy="261.43" r="3"/><circle cx="68.28" cy="272.78" r="3"/><circle cx="201.48" cy="272.81" r="3"/><circle cx="145.42" cy="276.31" r="3"/><circle cx="182.00" cy="266.11" r="3"/><circle cx="74.90" cy="265.65" r="3"/><circle cx="78.70" cy="270.59" r="3"/><circle cx="157.73" cy="260.07" r="3"/><circle cx="165.51" cy="267.29" r="3"/><circle cx="162.49" cy="276.10" r="3"/><circle cx="169.89" cy="278.68" r="3"/><circle cx="100.95" cy="266.09" r="3"/><circle cx="184.31" cy="274.50" r="3"/><circle cx="113.41" cy="263.87" r="3"/><circle cx="128.14" cy="262.36" r="3"/><circle cx="108.77" cy="279.04" r="3"/><circle cx="185.06" cy="235.74" r="3"/><circle cx="64.83" cy="267.96" r="3"/><circle cx="151.03" cy="262.04" r="3"/><circle cx="138.82" cy="260.32" r="3"/><circle cx="202.01" cy="271.66" r="3"/><circle cx="180.34" cy="279.52" r="3"/><circle cx="199.83" cy="241.84" r="3"/><circle cx="169.57" cy="259.13" r="3"/><circle cx="141.13" cy="261.76" r="3"/><circle cx="105.91" cy="274.51" r="3"/><circle cx="194.17" cy="268.88" r="3"/><circle cx="115.83" cy="275.82" r="3"/><circle cx="92.21" cy="271.92" r="3"/><circle cx="146.29" cy="254.60" r="3"/><circle cx="204.15" cy="276.13" r="3"/><circle cx="126.87" cy="273.02" r="3"/><circle cx="198.93" cy="260.20" r="3"/><circle cx="172.62" cy="269.30" r="3"/><circle cx="180.40" cy="234.60" r="3"/><circle cx="198.40" cy="228.91" r="3"/><circle cx="129.17" cy="278.60" r="3"/><circle cx="203.49" cy="277.45" r="3"/><circle cx="185.67" cy="235.51" r="3"/><circle cx="185.92" cy="281.50" r="3"/><circle cx="138.56" cy="281.88" r="3"/><circle cx="157.94" cy="279.99" r="3"/><circle cx="150.24" cy="258.22" r="3"/><circle cx="117.14" cy="277.22" r="3"/><circle cx="112.04" cy="273.59" r="3"/><circle cx="184.61" cy="236.39" r="3"/><circle cx="129.93" cy="281.65" r="3"/><circle cx="203.06" cy="241.31" r="3"/><circle cx="188.85" cy="260.14" r="3"/><circle cx="193.31" cy="239.13" r="3"/><circle cx="180.26" cy="280.85" r="3"/><circle cx="179.90" cy="245.88" r="3"/><circle cx="180.56" cy="265.31" r="3"/><circle cx="176.91" cy="259.99" r="3"/><circle cx="126.69" cy="270.10" r="3"/><circle cx="184.33" cy="276.09" r="3"/><circle cx="140.37" cy="265.74" r="3"/><circle cx="159.72" cy="271.35" r="3"/><circle cx="168.44" cy="281.26" r="3"/><circle cx="198.71" cy="262.11" r="3"/><circle cx="163.26" cy="284.10" r="3"/><circle cx="161.09" cy="271.99" r="3"/><circle cx="152.25" cy="254.83" r="3"/><circle cx="174.93" cy="281.06" r="3"/><circle cx="194.69" cy="270.78" r="3"/><circle cx="122.42" cy="267.83" r="3"/><circle cx="93.38" cy="277.43" r="3"/><circle cx="188.64" cy="279.33" r="3"/><circle cx="120.62" cy="272.15" r="3"/><circle cx="174.65" cy="256.59" r="3"/><circle cx="89.79" cy="269.66" r="3"/><circle cx="127.33" cy="276.24" r="3"/><circle cx="169.96" cy="254.92" r="3"/><circle cx="132.92" cy="279.62" r="3"/><circle cx="157.95" cy="269.67" r="3"/><circle cx="198.15" cy="259.08" r="3"/><circle cx="158.87" cy="278.82" r="3"/><circle cx="143.09" cy="256.68" r="3"/><circle cx="187.44" cy="277.00" r="3"/><circle cx="204.03" cy="237.67" r="3"/><circle cx="192.35" cy="257.39" r="3"/><circle cx="143.74" cy="259.91" r="3"/><circle cx="119.29" cy="266.30" r="3"/><circle cx="74.23" cy="273.90" r="3"/><circle cx="148.14" cy="282.46" r="3"/><circle cx="64.54" cy="267.98" r="3"/><circle cx="141.67" cy="265.96" r="3"/><circle cx="197.38" cy="230.90" r="3"/><circle cx="129.81" cy="266.80" r="3"/><circle cx="109.25" cy="279.95" r="3"/><circle cx="142.01" cy="277.15" r="3"/><circle cx="194.56" cy="277.15" r="3"/><circle cx="197.75" cy="224.94" r="3"/><circle cx="140.19" cy="261.99" r="3"/><circle cx="174.29" cy="252.21" r="3"/><circle cx="152.74" cy="272.06" r="3"/><circle cx="153.38" cy="260.89" r="3"/><circle cx="186.00" cy="237.39" r="3"/><circle cx="135.45" cy="269.29" r="3"/><circle cx="160.03" cy="278.98" r="3"/><circle cx="130.87" cy="263.38" r="3"/><circle cx="182.23" cy="247.06" r="3"/><circle cx="82.99" cy="275.29" r="3"/><circle cx="110.68" cy="266.67" r="3"/><circle cx="168.87" cy="265.26" r="3"/><circle cx="188.37" cy="262.02" r="3"/><circle cx="197.42" cy="266.87" r="3"/><circle cx="114.36" cy="275.40" r="3"/><circle cx="170.87" cy="246.84" r="3"/><circle cx="199.12" cy="276.61" r="3"/><circle cx="69.18" cy="265.68" r="3"/><circle cx="199.91" cy="262.33" r="3"/><circle cx="192.04" cy="275.08" r="3"/><circle cx="131.68" cy="260.50" r="3"/><circle cx="144.86" cy="265.84" r="3"/><circle cx="159.65" cy="274.73" r="3"/><circle cx="184.89" cy="275.38" r="3"/><circle cx="152.42" cy="258.23" r="3"/><circle cx="174.36" cy="260.32" r="3"/><circle cx="82.39" cy="277.57" r="3"/><circle cx="194.94" cy="264.62" r="3"/><circle cx="201.54" cy="230.88" r="3"/><circle cx="154.52" cy="253.62" r="3"/><circle cx="143.57" cy="271.88" r="3"/><circle cx="110.60" cy="265.62" r="3"/><circle cx="63.55" cy="268.31" r="3"/><circle cx="128.16" cy="265.94" r="3"/><circle cx="181.29" cy="231.68" r="3"/><circle cx="198.74" cy="275.64" r="3"/><circle cx="130.29" cy="281.37" r="3"/><circle cx="154.00" cy="264.60" r="3"/><circle cx="201.28" cy="221.80" r="3"/><circle cx="197.99" cy="249.29" r="3"/><circle cx="137.31" cy="274.66" r="3"/><circle cx="133.76" cy="257.87" r="3"/><circle cx="80.66" cy="270.32" r="3"/><circle cx="94.32" cy="267.63" r="3"/><circle cx="188.01" cy="225.49" r="3"/><circle cx="135.88" cy="255.70" r="3"/><circle cx="181.27" cy="280.95" r="3"/><circle cx="117.90" cy="271.82" r="3"/><circle cx="78.56" cy="274.96" r="3"/><circle cx="84.33" cy="271.60" r="3"/><circle cx="97.43" cy="279.63" r="3"/><circle cx="78.50" cy="269.41" r="3"/><circle cx="117.14" cy="261.15" r="3"/><circle cx="119.57" cy="269.57" r="3"/><circle cx="89.81" cy="267.67" r="3"/><circle cx="116.77" cy="278.89" r="3"/><circle cx="113.89" cy="272.29" r="3"/><circle cx="92.32" cy="271.62" r="3"/><circle cx="128.32" cy="276.08" r="3"/><circle cx="101.12" cy="277.61" r="3"/><circle cx="126.06" cy="274.45" r="3"/><circle cx="68.59" cy="269.65" r="3"/><circle cx="103.95" cy="276.94" r="3"/><circle cx="97.36" cy="270.82" r="3"/><circle cx="63.51" cy="270.44" r="3"/><circle cx="101.42" cy="267.21" r="3"/><circle cx="60.66" cy="268.67" r="3"/><circle cx="117.62" cy="277.65" r="3"/><circle cx="65.24" cy="271.88" r="3"/><circle cx="63.86" cy="270.12" r="3"/><circle cx="105.15" cy="270.22" r="3"/><circle cx="131.66" cy="270.84" r="3"/><circle cx="81.64" cy="269.14" r="3"/><circle cx="91.30" cy="275.27" r="3"/><circle cx="92.04" cy="270.47" r="3"/><circle cx="125.70" cy="263.68" r="3"/><circle cx="85.01" cy="272.18" r="3"/><circle cx="75.13" cy="268.46" r="3"/><circle cx="83.14" cy="271.07" r="3"/><circle cx="102.01" cy="272.50" r="3"/><circle cx="91.10" cy="262.12" r="3"/><circle cx="87.14" cy="263.05" r="3"/><circle cx="109.41" cy="263.59" r="3"/><circle cx="86.61" cy="273.37" r="3"/><circle cx="102.47" cy="278.16" r="3"/><circle cx="125.80" cy="276.25" r="3"/><circle cx="80.41" cy="278.78" r="3"/><circle cx="74.45" cy="265.98" r="3"/><circle cx="68.27" cy="269.74" r="3"/><circle cx="112.29" cy="272.54" r="3"/><circle cx="82.44" cy="273.77" r="3"/><circle cx="127.05" cy="274.66" r="3"/><circle cx="97.87" cy="269.12" r="3"/><circle cx="70.41" cy="265.53" r="3"/><circle cx="119.52" cy="272.39" r="3"/><circle cx="108.02" cy="272.40" r="3"/><circle cx="130.57" cy="269.97" r="3"/><circle cx="92.44" cy="275.78" r="3"/><circle cx="89.31" cy="276.33" r="3"/><circle cx="91.54" cy="261.71" r="3"/><circle cx="94.61" cy="275.58" r="3"/><circle cx="78.61" cy="263.76" r="3"/><circle cx="72.62" cy="267.48" r="3"/><circle cx="64.72" cy="267.25" r="3"/><circle cx="128.02" cy="260.28" r="3"/><circle cx="124.20" cy="264.01" r="3"/><circle cx="114.07" cy="276.09" r="3"/><circle cx="103.78" cy="273.26" r="3"/><circle cx="105.74" cy="278.11" r="3"/><circle cx="195.72" cy="286.98" r="3"/><circle cx="183.67" cy="281.86" r="3"/><circle cx="189.13" cy="283.27" r="3"/><circle cx="182.28" cy="295.94" r="3"/><circle cx="193.77" cy="289.29" r="3"/><circle cx="197.31" cy="289.02" r="3"/><circle cx="186.22" cy="292.13" r="3"/><circle cx="191.52" cy="282.87" r="3"/><circle cx="184.35" cy="289.71" r="3"/><circle cx="200.69" cy="290.76" r="3"/><circle cx="181.71" cy="294.54" r="3"/><circle cx="187.38" cy="292.65" r="3"/><circle cx="184.45" cy="283.12" r="3"/><circle cx="177.91" cy="294.01" r="3"/><circle cx="195.64" cy="284.87" r="3"/><circle cx="185.72" cy="292.17" r="3"/><circle cx="154.41" cy="247.20" r="3"/><circle cx="134.48" cy="246.78" r="3"/><circle cx="137.04" cy="239.45" r="3"/><circle cx="141.07" cy="251.56" r="3"/><circle cx="220.86" cy="259.93" r="3"/><circle cx="219.49" cy="263.27" r="3"/><circle cx="219.75" cy="257.55" r="3"/><circle cx="214.50" cy="263.20" r="3"/><circle cx="221.28" cy="256.77" r="3"/><circle cx="209.84" cy="267.59" r="3"/><circle cx="207.02" cy="262.24" r="3"/><circle cx="212.16" cy="258.34" r="3"/><circle cx="210.20" cy="276.44" r="3"/><circle cx="212.82" cy="254.48" r="3"/><circle cx="225.70" cy="268.33" r="3"/><circle cx="225.11" cy="271.26" r="3"/><circle cx="216.25" cy="262.85" r="3"/><circle cx="210.26" cy="272.20" r="3"/><circle cx="206.32" cy="264.20" r="3"/><circle cx="227.99" cy="260.63" r="3"/><circle cx="217.10" cy="255.59" r="3"/><circle cx="215.27" cy="263.05" r="3"/><circle cx="216.15" cy="263.98" r="3"/><circle cx="232.36" cy="266.71" r="3"/><circle cx="224.13" cy="262.73" r="3"/><circle cx="221.77" cy="274.92" r="3"/><circle cx="220.76" cy="272.49" r="3"/><circle cx="228.34" cy="261.34" r="3"/><circle cx="213.11" cy="275.51" r="3"/><circle cx="213.12" cy="271.51" r="3"/><circle cx="208.43" cy="263.98" r="3"/><circle cx="214.62" cy="258.53" r="3"/><circle cx="210.30" cy="276.17" r="3"/><circle cx="223.60" cy="263.37" r="3"/></g>
   <defs>
     <path id="m7f0def6abd" d="M 0 3 
C 0.795609 3 1.55874 2.683901 2.12132 2.12132 
C 2.683901 1.55874 3 0.795609 3 0 
C 3 -0.795609 2.683901 -1.55874 2.12132 -2.12132 
C 1.55874 -2.683901 0.795609 -3 0 -3 
C -0.795609 -3 -1.55874 -2.683901 -2.12132 -2.12132 
C -2.683901 -1.55874 -3 -0.795609 -3 0 
C -3 0.795609 -2.683901 1.55874 -2.12132 2.12132 
C -1.55874 2.683901 -0.795609 3 0 3 
z
" style="stroke: #2ca02c; stroke-opacity: 0.8"/>
    </defs><g clip-path="url(#p1e4c1212a1)" style="fill:#2ca02c;fill-opacity:0.8;stroke:#2ca02c;stroke-opacity:0.8"><circle cx="423.45" cy="239.65" r="3"/><circle cx="430.33" cy="265.85" r="3"/><circle cx="459.27" cy="276.62" r="3"/><circle cx="400.07" cy="288.35" r="3"/><circle cx="402.80" cy="289.85" r="3"/><circle cx="397.07" cy="292.94" r="3"/><circle cx="393.18" cy="298.58" r="3"/><circle cx="382.06" cy="291.17" r="3"/><circle cx="103.07" cy="280.76" r="3"/><circle cx="108.71" cy="283.14" r="3"/><circle cx="116.74" cy="281.56" r="3"/><circle cx="122.30" cy="283.94" r="3"/><circle cx="127.16" cy="290.38" r="3"/><circle cx="124.33" cy="284.73" r="3"/><circle cx="134.74" cy="284.73" r="3"/><circle cx="135.54" cy="289.58" r="3"/><circle cx="142.77" cy="286.32" r="3"/><circle cx="141.98" cy="291.97" r="3"/><circle cx="149.21" cy="288.00" r="3"/><circle cx="150.01" cy="296.03" r="3"/><circle cx="155.65" cy="291.17" r="3"/><circle cx="158.83" cy="296.03" r="3"/><circle cx="163.68" cy="288.00" r="3"/><circle cx="166.07" cy="297.61" r="3"/><circle cx="171.63" cy="289.58" r="3"/><circle cx="179.66" cy="279.97" r="3"/><circle cx="182.13" cy="294.35" r="3"/><circle cx="186.89" cy="283.14" r="3"/><circle cx="190.95" cy="286.32" r="3"/><circle cx="195.71" cy="288.00" r="3"/><circle cx="197.30" cy="278.38" r="3"/><circle cx="197.30" cy="302.38" r="3"/><circle cx="205.33" cy="285.52" r="3"/><circle cx="208.59" cy="282.35" r="3"/><circle cx="204.54" cy="293.55" r="3"/><circle cx="209.39" cy="293.55" r="3"/><circle cx="316.33" cy="257.47" r="3"/><circle cx="298.42" cy="263.56" r="3"/><circle cx="305.65" cy="263.91" r="3"/><circle cx="313.68" cy="264.70" r="3"/><circle cx="320.83" cy="268.67" r="3"/><circle cx="334.51" cy="266.03" r="3"/><circle cx="340.95" cy="267.08" r="3"/><circle cx="349.77" cy="266.03" r="3"/><circle cx="306.45" cy="267.88" r="3"/><circle cx="312.80" cy="270.35" r="3"/><circle cx="280.77" cy="273.53" r="3"/><circle cx="285.54" cy="272.73" r="3"/><circle cx="275.12" cy="276.70" r="3"/><circle cx="265.51" cy="279.97" r="3"/><circle cx="332.12" cy="272.73" r="3"/><circle cx="351.36" cy="272.73" r="3"/><circle cx="338.48" cy="275.91" r="3"/><circle cx="344.92" cy="275.11" r="3"/><circle cx="358.59" cy="267.08" r="3"/><circle cx="371.74" cy="263.12" r="3"/><circle cx="372.98" cy="265.50" r="3"/><circle cx="383.39" cy="265.06" r="3"/><circle cx="389.03" cy="266.29" r="3"/><circle cx="381.80" cy="268.67" r="3"/><circle cx="395.12" cy="268.67" r="3"/><circle cx="399.98" cy="271.41" r="3"/><circle cx="415.51" cy="263.91" r="3"/><circle cx="364.95" cy="269.56" r="3"/><circle cx="367.42" cy="271.94" r="3"/><circle cx="382.59" cy="275.11" r="3"/><circle cx="397.07" cy="277.50" r="3"/><circle cx="406.68" cy="278.82" r="3"/><circle cx="389.83" cy="279.97" r="3"/><circle cx="393.89" cy="281.56" r="3"/><circle cx="390.62" cy="285.52" r="3"/><circle cx="396.27" cy="285.52" r="3"/><circle cx="406.68" cy="290.38" r="3"/><circle cx="411.54" cy="296.03" r="3"/><circle cx="385.86" cy="296.82" r="3"/><circle cx="377.03" cy="290.38" r="3"/><circle cx="401.57" cy="303.17" r="3"/><circle cx="410.74" cy="305.64" r="3"/><circle cx="389.03" cy="302.38" r="3"/><circle cx="376.24" cy="278.38" r="3"/><circle cx="380.21" cy="281.56" r="3"/><circle cx="371.39" cy="275.91" r="3"/><circle cx="357.80" cy="275.91" r="3"/><circle cx="396.27" cy="298.41" r="3"/><circle cx="386.65" cy="311.20" r="3"/><circle cx="391.42" cy="318.44" r="3"/><circle cx="394.33" cy="322.50" r="3"/><circle cx="404.30" cy="319.23" r="3"/><circle cx="413.56" cy="320.02" r="3"/><circle cx="381.80" cy="324.08" r="3"/><circle cx="377.83" cy="324.88" r="3"/><circle cx="378.62" cy="320.02" r="3"/><circle cx="372.18" cy="317.64" r="3"/><circle cx="215.74" cy="298.41" r="3"/><circle cx="227.04" cy="307.23" r="3"/><circle cx="234.27" cy="315.26" r="3"/><circle cx="245.48" cy="313.67" r="3"/><circle cx="248.65" cy="317.64" r="3"/><circle cx="280.77" cy="325.67" r="3"/><circle cx="289.60" cy="321.61" r="3"/><circle cx="320.83" cy="332.55" r="3"/><circle cx="321.62" cy="324.88" r="3"/><circle cx="314.48" cy="324.08" r="3"/><circle cx="299.21" cy="321.61" r="3"/><circle cx="333.71" cy="316.85" r="3"/><circle cx="344.92" cy="316.85" r="3"/><circle cx="369.80" cy="316.85" r="3"/><circle cx="110.21" cy="284.91" r="3"/><circle cx="122.39" cy="281.03" r="3"/><circle cx="146.12" cy="289.41" r="3"/><circle cx="300.47" cy="314.08" r="3"/><circle cx="316.26" cy="281.18" r="3"/><circle cx="298.17" cy="302.38" r="3"/><circle cx="246.42" cy="290.22" r="3"/><circle cx="298.36" cy="292.38" r="3"/><circle cx="316.36" cy="295.08" r="3"/><circle cx="325.27" cy="283.55" r="3"/><circle cx="344.13" cy="280.93" r="3"/><circle cx="336.28" cy="284.13" r="3"/><circle cx="278.24" cy="293.44" r="3"/><circle cx="300.39" cy="304.41" r="3"/><circle cx="293.43" cy="317.43" r="3"/><circle cx="239.18" cy="295.68" r="3"/><circle cx="358.54" cy="304.41" r="3"/><circle cx="290.50" cy="296.87" r="3"/><circle cx="363.86" cy="296.90" r="3"/><circle cx="338.25" cy="297.47" r="3"/><circle cx="339.04" cy="279.81" r="3"/><circle cx="278.14" cy="310.62" r="3"/><circle cx="311.92" cy="282.16" r="3"/><circle cx="245.35" cy="298.32" r="3"/><circle cx="341.63" cy="290.49" r="3"/><circle cx="334.03" cy="307.17" r="3"/><circle cx="297.70" cy="282.17" r="3"/><circle cx="258.26" cy="297.15" r="3"/><circle cx="262.32" cy="301.03" r="3"/><circle cx="361.20" cy="306.07" r="3"/><circle cx="272.08" cy="309.84" r="3"/><circle cx="313.40" cy="306.08" r="3"/><circle cx="315.73" cy="302.03" r="3"/><circle cx="356.46" cy="296.39" r="3"/><circle cx="232.25" cy="286.76" r="3"/><circle cx="275.51" cy="303.38" r="3"/><circle cx="267.83" cy="295.28" r="3"/><circle cx="341.80" cy="290.83" r="3"/><circle cx="335.00" cy="284.33" r="3"/><circle cx="361.49" cy="291.63" r="3"/><circle cx="313.91" cy="302.92" r="3"/><circle cx="295.06" cy="318.97" r="3"/><circle cx="308.69" cy="289.51" r="3"/><circle cx="297.05" cy="287.01" r="3"/><circle cx="318.31" cy="281.06" r="3"/><circle cx="291.22" cy="310.69" r="3"/><circle cx="348.95" cy="290.33" r="3"/><circle cx="296.81" cy="319.02" r="3"/><circle cx="324.74" cy="319.61" r="3"/><circle cx="287.68" cy="296.18" r="3"/><circle cx="296.30" cy="291.86" r="3"/><circle cx="272.70" cy="298.48" r="3"/><circle cx="319.70" cy="293.36" r="3"/><circle cx="356.83" cy="286.06" r="3"/><circle cx="306.24" cy="292.61" r="3"/><circle cx="320.06" cy="277.80" r="3"/><circle cx="263.71" cy="284.93" r="3"/><circle cx="342.15" cy="309.84" r="3"/><circle cx="301.13" cy="303.76" r="3"/><circle cx="345.53" cy="290.96" r="3"/><circle cx="288.36" cy="285.82" r="3"/><circle cx="282.30" cy="283.13" r="3"/><circle cx="265.99" cy="304.80" r="3"/><circle cx="255.53" cy="305.25" r="3"/><circle cx="334.51" cy="304.18" r="3"/><circle cx="284.76" cy="293.22" r="3"/><circle cx="358.54" cy="286.36" r="3"/><circle cx="319.21" cy="302.95" r="3"/><circle cx="336.88" cy="306.63" r="3"/><circle cx="264.65" cy="283.83" r="3"/><circle cx="304.95" cy="279.32" r="3"/><circle cx="316.02" cy="311.32" r="3"/><circle cx="338.03" cy="277.25" r="3"/><circle cx="296.64" cy="276.56" r="3"/><circle cx="285.90" cy="279.01" r="3"/><circle cx="300.93" cy="278.83" r="3"/><circle cx="336.26" cy="306.15" r="3"/><circle cx="333.03" cy="285.10" r="3"/><circle cx="229.25" cy="290.07" r="3"/><circle cx="329.03" cy="309.95" r="3"/><circle cx="322.44" cy="294.42" r="3"/><circle cx="290.74" cy="309.24" r="3"/><circle cx="302.70" cy="285.45" r="3"/><circle cx="231.70" cy="277.95" r="3"/><circle cx="290.22" cy="316.50" r="3"/><circle cx="291.69" cy="290.55" r="3"/><circle cx="347.26" cy="286.37" r="3"/><circle cx="296.93" cy="315.92" r="3"/><circle cx="345.81" cy="281.36" r="3"/><circle cx="259.84" cy="294.00" r="3"/><circle cx="330.78" cy="306.80" r="3"/><circle cx="294.99" cy="292.58" r="3"/><circle cx="257.08" cy="302.02" r="3"/><circle cx="335.53" cy="291.41" r="3"/><circle cx="230.29" cy="281.31" r="3"/><circle cx="279.13" cy="310.89" r="3"/><circle cx="274.91" cy="281.99" r="3"/><circle cx="307.66" cy="288.89" r="3"/><circle cx="296.51" cy="296.08" r="3"/><circle cx="272.20" cy="292.50" r="3"/><circle cx="344.68" cy="307.96" r="3"/><circle cx="351.89" cy="276.81" r="3"/><circle cx="233.53" cy="299.37" r="3"/><circle cx="302.62" cy="295.03" r="3"/><circle cx="292.09" cy="316.64" r="3"/><circle cx="298.96" cy="287.32" r="3"/><circle cx="289.39" cy="288.95" r="3"/><circle cx="309.22" cy="302.24" r="3"/><circle cx="320.99" cy="319.98" r="3"/><circle cx="288.65" cy="298.60" r="3"/><circle cx="333.54" cy="317.85" r="3"/><circle cx="276.09" cy="285.23" r="3"/><circle cx="357.13" cy="279.23" r="3"/><circle cx="266.95" cy="296.68" r="3"/><circle cx="253.63" cy="291.70" r="3"/><circle cx="341.62" cy="284.31" r="3"/><circle cx="298.04" cy="285.04" r="3"/><circle cx="307.53" cy="286.78" r="3"/><circle cx="261.40" cy="299.46" r="3"/><circle cx="319.89" cy="281.22" r="3"/><circle cx="292.48" cy="278.33" r="3"/><circle cx="239.66" cy="289.65" r="3"/><circle cx="320.96" cy="303.66" r="3"/><circle cx="294.28" cy="283.66" r="3"/><circle cx="258.68" cy="306.79" r="3"/><circle cx="287.99" cy="290.09" r="3"/><circle cx="224.01" cy="277.40" r="3"/><circle cx="353.82" cy="294.38" r="3"/><circle cx="349.01" cy="286.43" r="3"/><circle cx="303.12" cy="287.01" r="3"/><circle cx="347.46" cy="285.56" r="3"/><circle cx="324.33" cy="300.73" r="3"/><circle cx="268.81" cy="299.61" r="3"/><circle cx="249.69" cy="294.61" r="3"/><circle cx="317.27" cy="309.81" r="3"/><circle cx="251.38" cy="289.71" r="3"/><circle cx="241.94" cy="285.41" r="3"/><circle cx="314.00" cy="285.46" r="3"/><circle cx="242.20" cy="287.72" r="3"/><circle cx="282.65" cy="284.38" r="3"/><circle cx="338.25" cy="309.76" r="3"/><circle cx="297.47" cy="307.03" r="3"/><circle cx="267.06" cy="299.99" r="3"/><circle cx="353.26" cy="298.58" r="3"/><circle cx="277.47" cy="305.49" r="3"/><circle cx="284.12" cy="279.65" r="3"/><circle cx="271.05" cy="281.52" r="3"/><circle cx="352.34" cy="309.28" r="3"/><circle cx="280.21" cy="278.54" r="3"/><circle cx="230.69" cy="287.33" r="3"/><circle cx="293.10" cy="280.16" r="3"/><circle cx="268.61" cy="283.60" r="3"/><circle cx="229.33" cy="280.83" r="3"/><circle cx="324.97" cy="278.64" r="3"/><circle cx="234.06" cy="281.97" r="3"/><circle cx="228.38" cy="297.34" r="3"/><circle cx="275.87" cy="284.25" r="3"/><circle cx="331.62" cy="302.03" r="3"/><circle cx="291.61" cy="302.14" r="3"/><circle cx="351.30" cy="306.28" r="3"/><circle cx="298.89" cy="300.10" r="3"/><circle cx="221.40" cy="296.33" r="3"/><circle cx="355.80" cy="300.13" r="3"/><circle cx="338.09" cy="312.88" r="3"/><circle cx="263.26" cy="307.79" r="3"/><circle cx="303.28" cy="293.65" r="3"/><circle cx="253.75" cy="306.29" r="3"/><circle cx="364.06" cy="291.28" r="3"/><circle cx="298.10" cy="300.82" r="3"/><circle cx="320.24" cy="310.68" r="3"/><circle cx="273.29" cy="280.67" r="3"/><circle cx="274.58" cy="291.84" r="3"/><circle cx="263.05" cy="292.98" r="3"/><circle cx="219.64" cy="295.25" r="3"/><circle cx="312.75" cy="290.17" r="3"/><circle cx="299.54" cy="312.10" r="3"/><circle cx="293.23" cy="317.82" r="3"/><circle cx="330.51" cy="300.86" r="3"/><circle cx="226.24" cy="296.80" r="3"/><circle cx="220.54" cy="284.84" r="3"/><circle cx="351.29" cy="308.60" r="3"/><circle cx="343.06" cy="287.24" r="3"/><circle cx="349.42" cy="279.93" r="3"/><circle cx="318.39" cy="318.12" r="3"/><circle cx="342.34" cy="284.98" r="3"/><circle cx="320.22" cy="311.72" r="3"/><circle cx="297.07" cy="282.34" r="3"/><circle cx="300.60" cy="317.29" r="3"/><circle cx="354.30" cy="298.10" r="3"/><circle cx="360.30" cy="310.50" r="3"/><circle cx="252.20" cy="279.81" r="3"/><circle cx="328.11" cy="281.29" r="3"/><circle cx="336.01" cy="290.12" r="3"/><circle cx="356.60" cy="297.19" r="3"/><circle cx="252.07" cy="291.12" r="3"/><circle cx="270.28" cy="301.80" r="3"/><circle cx="307.69" cy="298.44" r="3"/><circle cx="282.24" cy="291.45" r="3"/><circle cx="324.84" cy="309.89" r="3"/><circle cx="335.86" cy="304.73" r="3"/><circle cx="358.07" cy="292.84" r="3"/><circle cx="283.17" cy="288.55" r="3"/><circle cx="289.26" cy="296.57" r="3"/><circle cx="219.05" cy="282.63" r="3"/><circle cx="254.99" cy="294.07" r="3"/><circle cx="244.70" cy="292.00" r="3"/><circle cx="257.14" cy="280.26" r="3"/><circle cx="346.53" cy="303.18" r="3"/><circle cx="362.78" cy="302.97" r="3"/><circle cx="306.90" cy="291.99" r="3"/><circle cx="335.71" cy="296.52" r="3"/><circle cx="338.49" cy="296.73" r="3"/><circle cx="325.71" cy="305.69" r="3"/><circle cx="273.73" cy="279.47" r="3"/><circle cx="248.85" cy="295.50" r="3"/><circle cx="285.60" cy="285.15" r="3"/><circle cx="253.17" cy="290.16" r="3"/><circle cx="296.65" cy="279.39" r="3"/><circle cx="275.29" cy="306.58" r="3"/><circle cx="340.47" cy="298.97" r="3"/><circle cx="357.71" cy="309.04" r="3"/><circle cx="333.42" cy="281.49" r="3"/><circle cx="315.01" cy="290.21" r="3"/><circle cx="347.06" cy="281.29" r="3"/><circle cx="224.83" cy="293.44" r="3"/><circle cx="237.55" cy="300.52" r="3"/><circle cx="250.48" cy="282.31" r="3"/><circle cx="301.60" cy="311.02" r="3"/><circle cx="272.02" cy="283.59" r="3"/><circle cx="264.48" cy="307.22" r="3"/><circle cx="297.84" cy="298.77" r="3"/><circle cx="316.95" cy="276.57" r="3"/><circle cx="348.40" cy="296.48" r="3"/><circle cx="268.32" cy="288.55" r="3"/><circle cx="342.50" cy="287.45" r="3"/><circle cx="262.96" cy="289.26" r="3"/><circle cx="287.26" cy="316.39" r="3"/><circle cx="334.11" cy="311.43" r="3"/><circle cx="331.46" cy="289.33" r="3"/><circle cx="338.65" cy="297.82" r="3"/><circle cx="239.99" cy="286.88" r="3"/><circle cx="293.87" cy="297.38" r="3"/><circle cx="363.30" cy="303.71" r="3"/><circle cx="307.87" cy="277.70" r="3"/><circle cx="223.79" cy="289.16" r="3"/><circle cx="307.84" cy="286.49" r="3"/><circle cx="352.75" cy="292.77" r="3"/><circle cx="340.43" cy="287.84" r="3"/><circle cx="299.55" cy="310.96" r="3"/><circle cx="344.61" cy="291.71" r="3"/><circle cx="310.72" cy="277.45" r="3"/><circle cx="304.87" cy="318.53" r="3"/><circle cx="250.94" cy="304.07" r="3"/><circle cx="352.65" cy="292.96" r="3"/><circle cx="337.81" cy="316.42" r="3"/><circle cx="220.89" cy="288.74" r="3"/><circle cx="304.67" cy="280.96" r="3"/><circle cx="271.45" cy="287.77" r="3"/><circle cx="342.67" cy="280.30" r="3"/><circle cx="271.43" cy="295.53" r="3"/><circle cx="282.63" cy="310.37" r="3"/><circle cx="301.93" cy="293.76" r="3"/><circle cx="286.49" cy="278.63" r="3"/><circle cx="265.73" cy="290.54" r="3"/><circle cx="259.66" cy="301.44" r="3"/><circle cx="289.26" cy="292.79" r="3"/><circle cx="342.86" cy="296.77" r="3"/><circle cx="340.64" cy="293.81" r="3"/><circle cx="266.87" cy="283.38" r="3"/><circle cx="267.61" cy="281.99" r="3"/><circle cx="293.46" cy="308.22" r="3"/><circle cx="309.11" cy="276.17" r="3"/><circle cx="269.73" cy="306.11" r="3"/><circle cx="273.62" cy="295.46" r="3"/><circle cx="333.30" cy="282.38" r="3"/><circle cx="353.17" cy="282.83" r="3"/><circle cx="299.60" cy="286.49" r="3"/><circle cx="350.93" cy="309.04" r="3"/><circle cx="362.80" cy="289.31" r="3"/><circle cx="224.66" cy="291.00" r="3"/><circle cx="313.34" cy="318.28" r="3"/><circle cx="226.53" cy="296.02" r="3"/><circle cx="357.13" cy="277.76" r="3"/><circle cx="282.65" cy="309.60" r="3"/><circle cx="286.35" cy="314.41" r="3"/><circle cx="274.70" cy="289.33" r="3"/><circle cx="268.82" cy="287.96" r="3"/><circle cx="326.27" cy="290.80" r="3"/><circle cx="271.66" cy="307.30" r="3"/><circle cx="349.02" cy="283.44" r="3"/><circle cx="244.42" cy="284.42" r="3"/><circle cx="356.85" cy="300.96" r="3"/><circle cx="338.09" cy="283.98" r="3"/><circle cx="344.63" cy="288.98" r="3"/><circle cx="307.64" cy="285.23" r="3"/><circle cx="291.37" cy="309.86" r="3"/><circle cx="342.38" cy="307.57" r="3"/><circle cx="327.93" cy="288.33" r="3"/><circle cx="227.60" cy="290.22" r="3"/><circle cx="233.65" cy="290.64" r="3"/><circle cx="329.99" cy="283.15" r="3"/><circle cx="355.06" cy="294.12" r="3"/><circle cx="222.17" cy="291.21" r="3"/><circle cx="335.75" cy="308.85" r="3"/><circle cx="329.17" cy="297.35" r="3"/><circle cx="320.36" cy="289.25" r="3"/><circle cx="344.88" cy="311.44" r="3"/><circle cx="356.52" cy="310.41" r="3"/><circle cx="324.07" cy="283.99" r="3"/><circle cx="299.93" cy="278.77" r="3"/><circle cx="352.72" cy="311.91" r="3"/><circle cx="294.69" cy="313.50" r="3"/><circle cx="345.39" cy="291.70" r="3"/><circle cx="315.67" cy="281.33" r="3"/><circle cx="246.61" cy="293.88" r="3"/><circle cx="331.61" cy="300.47" r="3"/><circle cx="336.28" cy="286.72" r="3"/><circle cx="226.57" cy="286.99" r="3"/><circle cx="303.94" cy="290.71" r="3"/><circle cx="363.54" cy="300.63" r="3"/><circle cx="299.78" cy="309.33" r="3"/><circle cx="291.70" cy="283.26" r="3"/><circle cx="244.10" cy="296.11" r="3"/><circle cx="251.92" cy="284.80" r="3"/><circle cx="344.80" cy="287.37" r="3"/><circle cx="242.92" cy="298.40" r="3"/><circle cx="298.12" cy="317.22" r="3"/><circle cx="336.57" cy="280.87" r="3"/><circle cx="296.55" cy="292.13" r="3"/><circle cx="361.61" cy="281.96" r="3"/><circle cx="278.75" cy="287.42" r="3"/><circle cx="318.75" cy="287.55" r="3"/><circle cx="344.46" cy="281.18" r="3"/><circle cx="226.25" cy="282.58" r="3"/><circle cx="308.35" cy="313.14" r="3"/><circle cx="284.31" cy="296.83" r="3"/><circle cx="345.56" cy="309.21" r="3"/><circle cx="333.26" cy="287.26" r="3"/><circle cx="299.42" cy="283.42" r="3"/><circle cx="329.37" cy="317.98" r="3"/><circle cx="289.12" cy="299.06" r="3"/><circle cx="325.63" cy="316.29" r="3"/><circle cx="349.44" cy="284.86" r="3"/><circle cx="258.32" cy="296.88" r="3"/><circle cx="303.84" cy="296.30" r="3"/><circle cx="300.54" cy="293.10" r="3"/><circle cx="277.54" cy="289.54" r="3"/><circle cx="312.77" cy="318.32" r="3"/><circle cx="363.14" cy="292.83" r="3"/><circle cx="317.74" cy="292.48" r="3"/><circle cx="226.17" cy="296.48" r="3"/><circle cx="312.94" cy="308.45" r="3"/><circle cx="313.95" cy="311.39" r="3"/><circle cx="230.64" cy="299.04" r="3"/><circle cx="282.08" cy="298.29" r="3"/><circle cx="284.25" cy="303.03" r="3"/><circle cx="279.81" cy="302.30" r="3"/><circle cx="277.91" cy="298.91" r="3"/><circle cx="274.38" cy="312.58" r="3"/><circle cx="336.49" cy="282.22" r="3"/><circle cx="308.21" cy="299.30" r="3"/><circle cx="222.04" cy="279.33" r="3"/><circle cx="337.09" cy="308.14" r="3"/><circle cx="349.15" cy="299.30" r="3"/><circle cx="304.79" cy="306.35" r="3"/><circle cx="293.89" cy="315.63" r="3"/><circle cx="252.28" cy="285.65" r="3"/><circle cx="228.84" cy="295.68" r="3"/><circle cx="263.10" cy="298.22" r="3"/><circle cx="240.04" cy="297.34" r="3"/><circle cx="288.83" cy="289.32" r="3"/><circle cx="335.60" cy="298.48" r="3"/><circle cx="303.78" cy="318.98" r="3"/><circle cx="346.63" cy="304.88" r="3"/><circle cx="259.81" cy="286.63" r="3"/><circle cx="305.39" cy="283.37" r="3"/><circle cx="325.23" cy="310.91" r="3"/><circle cx="234.45" cy="282.26" r="3"/><circle cx="353.96" cy="276.69" r="3"/><circle cx="334.66" cy="309.56" r="3"/><circle cx="320.27" cy="276.84" r="3"/><circle cx="356.47" cy="284.72" r="3"/><circle cx="346.00" cy="298.26" r="3"/><circle cx="262.96" cy="283.31" r="3"/><circle cx="215.28" cy="286.04" r="3"/><circle cx="314.43" cy="320.13" r="3"/><circle cx="291.61" cy="312.93" r="3"/><circle cx="278.10" cy="294.64" r="3"/><circle cx="297.58" cy="283.00" r="3"/><circle cx="357.07" cy="280.76" r="3"/><circle cx="278.40" cy="305.23" r="3"/><circle cx="217.99" cy="278.96" r="3"/><circle cx="256.71" cy="290.33" r="3"/><circle cx="293.64" cy="289.89" r="3"/><circle cx="233.68" cy="298.35" r="3"/><circle cx="307.50" cy="303.76" r="3"/><circle cx="279.62" cy="296.32" r="3"/><circle cx="364.11" cy="294.78" r="3"/><circle cx="313.32" cy="279.34" r="3"/><circle cx="293.15" cy="309.97" r="3"/><circle cx="284.69" cy="308.66" r="3"/><circle cx="314.35" cy="280.33" r="3"/><circle cx="284.62" cy="307.32" r="3"/><circle cx="256.06" cy="284.04" r="3"/><circle cx="246.23" cy="294.93" r="3"/><circle cx="352.14" cy="312.19" r="3"/><circle cx="314.76" cy="295.37" r="3"/><circle cx="230.41" cy="289.21" r="3"/><circle cx="345.06" cy="286.97" r="3"/><circle cx="270.41" cy="297.19" r="3"/><circle cx="299.90" cy="298.24" r="3"/><circle cx="309.07" cy="315.59" r="3"/><circle cx="237.61" cy="293.62" r="3"/><circle cx="325.30" cy="284.48" r="3"/><circle cx="231.32" cy="287.62" r="3"/><circle cx="301.82" cy="283.06" r="3"/><circle cx="288.38" cy="293.65" r="3"/><circle cx="340.32" cy="311.66" r="3"/><circle cx="277.11" cy="313.07" r="3"/><circle cx="286.46" cy="288.20" r="3"/><circle cx="321.72" cy="292.82" r="3"/><circle cx="278.06" cy="312.74" r="3"/><circle cx="267.59" cy="299.61" r="3"/><circle cx="336.27" cy="313.22" r="3"/><circle cx="317.29" cy="307.86" r="3"/><circle cx="304.29" cy="281.77" r="3"/><circle cx="348.35" cy="306.29" r="3"/><circle cx="229.19" cy="280.88" r="3"/><circle cx="229.25" cy="281.94" r="3"/><circle cx="303.04" cy="279.77" r="3"/><circle cx="275.58" cy="288.53" r="3"/><circle cx="312.72" cy="307.97" r="3"/><circle cx="310.41" cy="302.61" r="3"/><circle cx="297.95" cy="310.51" r="3"/><circle cx="289.61" cy="285.11" r="3"/><circle cx="335.71" cy="308.22" r="3"/><circle cx="320.96" cy="310.95" r="3"/><circle cx="276.59" cy="281.34" r="3"/><circle cx="300.52" cy="280.57" r="3"/><circle cx="348.84" cy="295.50" r="3"/><circle cx="324.41" cy="294.64" r="3"/><circle cx="356.71" cy="286.63" r="3"/><circle cx="338.78" cy="287.26" r="3"/><circle cx="227.93" cy="290.42" r="3"/><circle cx="330.48" cy="315.82" r="3"/><circle cx="234.26" cy="291.03" r="3"/><circle cx="316.34" cy="308.15" r="3"/><circle cx="340.76" cy="287.74" r="3"/><circle cx="361.29" cy="290.78" r="3"/><circle cx="252.62" cy="282.55" r="3"/><circle cx="332.42" cy="289.06" r="3"/><circle cx="337.92" cy="307.03" r="3"/><circle cx="215.68" cy="279.41" r="3"/><circle cx="300.24" cy="277.10" r="3"/><circle cx="219.40" cy="280.50" r="3"/><circle cx="362.10" cy="300.16" r="3"/><circle cx="355.79" cy="291.58" r="3"/><circle cx="231.99" cy="281.16" r="3"/><circle cx="350.31" cy="313.74" r="3"/><circle cx="338.65" cy="305.89" r="3"/><circle cx="358.93" cy="294.64" r="3"/><circle cx="337.79" cy="310.82" r="3"/><circle cx="279.74" cy="288.68" r="3"/><circle cx="337.86" cy="309.39" r="3"/><circle cx="238.14" cy="296.06" r="3"/><circle cx="306.28" cy="308.29" r="3"/><circle cx="328.96" cy="277.36" r="3"/><circle cx="272.28" cy="308.62" r="3"/><circle cx="345.31" cy="276.32" r="3"/><circle cx="236.77" cy="290.06" r="3"/><circle cx="359.79" cy="307.40" r="3"/><circle cx="321.31" cy="286.87" r="3"/><circle cx="321.34" cy="287.37" r="3"/><circle cx="341.33" cy="303.04" r="3"/><circle cx="256.56" cy="282.11" r="3"/><circle cx="232.41" cy="282.31" r="3"/><circle cx="352.57" cy="292.21" r="3"/><circle cx="299.58" cy="282.04" r="3"/><circle cx="360.77" cy="306.29" r="3"/><circle cx="348.85" cy="283.58" r="3"/><circle cx="267.22" cy="306.65" r="3"/><circle cx="290.55" cy="304.98" r="3"/><circle cx="282.59" cy="312.37" r="3"/><circle cx="333.65" cy="312.19" r="3"/><circle cx="268.96" cy="291.70" r="3"/><circle cx="231.37" cy="291.59" r="3"/><circle cx="359.19" cy="299.87" r="3"/><circle cx="218.83" cy="291.47" r="3"/><circle cx="313.96" cy="282.70" r="3"/><circle cx="292.41" cy="290.78" r="3"/><circle cx="257.54" cy="283.61" r="3"/><circle cx="313.31" cy="295.48" r="3"/><circle cx="262.78" cy="280.01" r="3"/><circle cx="363.43" cy="302.51" r="3"/><circle cx="280.81" cy="302.22" r="3"/><circle cx="282.33" cy="311.50" r="3"/><circle cx="344.98" cy="289.15" r="3"/><circle cx="354.77" cy="288.84" r="3"/><circle cx="310.08" cy="318.57" r="3"/><circle cx="319.40" cy="277.76" r="3"/><circle cx="307.89" cy="314.57" r="3"/><circle cx="221.52" cy="284.50" r="3"/><circle cx="275.77" cy="293.17" r="3"/><circle cx="309.30" cy="300.63" r="3"/><circle cx="277.57" cy="296.80" r="3"/><circle cx="269.74" cy="293.07" r="3"/><circle cx="266.35" cy="289.33" r="3"/><circle cx="239.71" cy="301.09" r="3"/><circle cx="305.58" cy="300.30" r="3"/><circle cx="290.64" cy="312.50" r="3"/><circle cx="352.10" cy="278.15" r="3"/><circle cx="275.06" cy="296.87" r="3"/><circle cx="228.56" cy="290.57" r="3"/><circle cx="279.19" cy="279.97" r="3"/><circle cx="275.11" cy="284.42" r="3"/><circle cx="228.98" cy="278.23" r="3"/><circle cx="318.03" cy="305.08" r="3"/><circle cx="236.83" cy="291.98" r="3"/><circle cx="323.40" cy="281.16" r="3"/><circle cx="336.89" cy="305.64" r="3"/><circle cx="356.40" cy="302.90" r="3"/><circle cx="220.30" cy="294.06" r="3"/><circle cx="318.04" cy="296.82" r="3"/><circle cx="269.96" cy="286.79" r="3"/><circle cx="318.24" cy="282.43" r="3"/><circle cx="329.42" cy="288.18" r="3"/><circle cx="301.18" cy="317.58" r="3"/><circle cx="303.56" cy="315.16" r="3"/><circle cx="312.85" cy="282.74" r="3"/><circle cx="319.19" cy="305.54" r="3"/><circle cx="283.18" cy="311.73" r="3"/><circle cx="304.18" cy="300.49" r="3"/><circle cx="326.45" cy="314.82" r="3"/><circle cx="284.27" cy="299.39" r="3"/><circle cx="302.78" cy="290.59" r="3"/><circle cx="335.10" cy="310.29" r="3"/><circle cx="246.09" cy="288.33" r="3"/><circle cx="300.69" cy="295.49" r="3"/><circle cx="301.24" cy="286.14" r="3"/><circle cx="328.65" cy="280.41" r="3"/><circle cx="214.71" cy="284.74" r="3"/><circle cx="289.84" cy="314.32" r="3"/><circle cx="256.50" cy="285.74" r="3"/><circle cx="322.65" cy="280.60" r="3"/><circle cx="316.68" cy="293.74" r="3"/><circle cx="308.77" cy="292.17" r="3"/><circle cx="340.13" cy="313.22" r="3"/><circle cx="233.29" cy="287.92" r="3"/><circle cx="269.25" cy="300.90" r="3"/><circle cx="325.54" cy="298.82" r="3"/><circle cx="241.19" cy="302.47" r="3"/><circle cx="346.73" cy="303.99" r="3"/><circle cx="223.79" cy="287.26" r="3"/><circle cx="315.35" cy="292.72" r="3"/><circle cx="238.34" cy="301.24" r="3"/><circle cx="343.05" cy="306.51" r="3"/><circle cx="253.60" cy="284.13" r="3"/><circle cx="230.31" cy="287.90" r="3"/><circle cx="303.29" cy="317.08" r="3"/><circle cx="357.66" cy="292.09" r="3"/><circle cx="250.52" cy="300.43" r="3"/><circle cx="346.36" cy="281.63" r="3"/><circle cx="303.68" cy="316.88" r="3"/><circle cx="313.44" cy="316.90" r="3"/><circle cx="292.77" cy="304.02" r="3"/><circle cx="338.48" cy="294.22" r="3"/><circle cx="275.14" cy="307.37" r="3"/><circle cx="222.71" cy="296.49" r="3"/><circle cx="236.20" cy="296.66" r="3"/><circle cx="294.94" cy="289.30" r="3"/><circle cx="320.61" cy="300.95" r="3"/><circle cx="287.29" cy="314.67" r="3"/><circle cx="226.36" cy="277.50" r="3"/><circle cx="359.50" cy="282.73" r="3"/><circle cx="283.65" cy="292.01" r="3"/><circle cx="254.30" cy="298.80" r="3"/><circle cx="347.28" cy="294.76" r="3"/><circle cx="309.11" cy="319.12" r="3"/><circle cx="281.78" cy="290.22" r="3"/><circle cx="286.91" cy="311.85" r="3"/><circle cx="318.02" cy="319.47" r="3"/><circle cx="311.33" cy="318.33" r="3"/><circle cx="341.15" cy="289.93" r="3"/><circle cx="332.49" cy="290.22" r="3"/><circle cx="308.64" cy="298.23" r="3"/><circle cx="244.96" cy="295.01" r="3"/><circle cx="346.93" cy="288.86" r="3"/><circle cx="273.87" cy="293.45" r="3"/><circle cx="341.23" cy="291.14" r="3"/><circle cx="358.18" cy="297.13" r="3"/><circle cx="270.96" cy="289.91" r="3"/><circle cx="287.54" cy="278.37" r="3"/><circle cx="224.49" cy="286.86" r="3"/><circle cx="339.40" cy="313.06" r="3"/><circle cx="338.61" cy="283.19" r="3"/><circle cx="329.36" cy="309.24" r="3"/><circle cx="350.75" cy="295.75" r="3"/><circle cx="312.03" cy="284.53" r="3"/><circle cx="343.65" cy="306.19" r="3"/><circle cx="261.18" cy="284.46" r="3"/><circle cx="285.16" cy="309.31" r="3"/><circle cx="295.57" cy="288.95" r="3"/><circle cx="303.95" cy="285.35" r="3"/><circle cx="294.77" cy="293.33" r="3"/><circle cx="334.06" cy="279.15" r="3"/><circle cx="242.59" cy="283.56" r="3"/><circle cx="286.42" cy="290.38" r="3"/><circle cx="303.47" cy="297.58" r="3"/><circle cx="265.43" cy="306.72" r="3"/><circle cx="300.48" cy="281.03" r="3"/><circle cx="270.71" cy="303.05" r="3"/><circle cx="307.96" cy="296.38" r="3"/><circle cx="293.56" cy="304.65" r="3"/><circle cx="344.87" cy="277.40" r="3"/><circle cx="272.76" cy="303.78" r="3"/><circle cx="349.32" cy="288.69" r="3"/><circle cx="349.22" cy="314.83" r="3"/><circle cx="245.58" cy="283.70" r="3"/><circle cx="244.02" cy="288.17" r="3"/><circle cx="277.40" cy="284.82" r="3"/><circle cx="262.23" cy="301.60" r="3"/><circle cx="250.31" cy="284.77" r="3"/><circle cx="348.00" cy="301.54" r="3"/><circle cx="319.31" cy="316.47" r="3"/><circle cx="329.63" cy="309.91" r="3"/><circle cx="264.74" cy="289.88" r="3"/><circle cx="289.60" cy="293.09" r="3"/><circle cx="331.03" cy="317.22" r="3"/><circle cx="312.52" cy="298.85" r="3"/><circle cx="268.01" cy="293.76" r="3"/><circle cx="338.40" cy="308.94" r="3"/><circle cx="349.17" cy="314.04" r="3"/><circle cx="341.63" cy="303.73" r="3"/><circle cx="346.61" cy="281.99" r="3"/><circle cx="274.86" cy="311.96" r="3"/><circle cx="289.88" cy="311.58" r="3"/><circle cx="262.93" cy="305.39" r="3"/><circle cx="321.93" cy="316.86" r="3"/><circle cx="313.40" cy="306.50" r="3"/><circle cx="270.00" cy="288.88" r="3"/><circle cx="327.62" cy="297.39" r="3"/><circle cx="229.99" cy="277.31" r="3"/><circle cx="327.38" cy="291.16" r="3"/><circle cx="255.56" cy="306.29" r="3"/><circle cx="250.16" cy="292.45" r="3"/><circle cx="271.06" cy="311.07" r="3"/><circle cx="322.77" cy="317.53" r="3"/><circle cx="295.79" cy="291.92" r="3"/><circle cx="356.36" cy="283.42" r="3"/><circle cx="237.76" cy="300.11" r="3"/><circle cx="303.41" cy="286.77" r="3"/><circle cx="351.01" cy="277.63" r="3"/><circle cx="292.15" cy="300.30" r="3"/><circle cx="312.11" cy="307.38" r="3"/><circle cx="262.50" cy="280.72" r="3"/><circle cx="307.60" cy="296.86" r="3"/><circle cx="306.29" cy="319.18" r="3"/><circle cx="299.99" cy="284.31" r="3"/><circle cx="253.14" cy="289.29" r="3"/><circle cx="356.68" cy="297.27" r="3"/><circle cx="317.44" cy="318.12" r="3"/><circle cx="343.66" cy="276.30" r="3"/><circle cx="289.59" cy="306.67" r="3"/><circle cx="234.47" cy="283.48" r="3"/><circle cx="331.19" cy="309.16" r="3"/><circle cx="320.51" cy="279.77" r="3"/><circle cx="314.04" cy="304.96" r="3"/><circle cx="317.67" cy="313.35" r="3"/><circle cx="324.41" cy="300.62" r="3"/><circle cx="270.60" cy="284.38" r="3"/><circle cx="362.90" cy="295.81" r="3"/><circle cx="254.71" cy="305.15" r="3"/><circle cx="315.97" cy="302.58" r="3"/><circle cx="346.75" cy="303.15" r="3"/><circle cx="271.49" cy="279.56" r="3"/><circle cx="231.85" cy="297.95" r="3"/><circle cx="253.16" cy="281.88" r="3"/><circle cx="339.64" cy="296.13" r="3"/><circle cx="324.09" cy="314.35" r="3"/><circle cx="297.63" cy="290.43" r="3"/><circle cx="287.29" cy="285.54" r="3"/><circle cx="263.96" cy="303.26" r="3"/><circle cx="242.89" cy="295.95" r="3"/><circle cx="285.40" cy="293.93" r="3"/><circle cx="292.29" cy="314.07" r="3"/><circle cx="292.90" cy="312.78" r="3"/><circle cx="324.27" cy="284.29" r="3"/><circle cx="258.81" cy="282.53" r="3"/><circle cx="331.73" cy="279.71" r="3"/><circle cx="343.51" cy="300.75" r="3"/><circle cx="278.92" cy="301.12" r="3"/><circle cx="295.15" cy="303.72" r="3"/><circle cx="295.87" cy="289.33" r="3"/><circle cx="349.91" cy="303.59" r="3"/><circle cx="356.40" cy="304.00" r="3"/><circle cx="316.57" cy="318.47" r="3"/><circle cx="223.02" cy="283.97" r="3"/><circle cx="300.14" cy="288.96" r="3"/><circle cx="216.03" cy="288.65" r="3"/><circle cx="318.35" cy="306.60" r="3"/><circle cx="217.23" cy="290.13" r="3"/><circle cx="343.61" cy="305.24" r="3"/><circle cx="307.50" cy="319.97" r="3"/><circle cx="307.63" cy="304.66" r="3"/><circle cx="296.72" cy="319.08" r="3"/><circle cx="316.81" cy="278.40" r="3"/><circle cx="311.83" cy="278.34" r="3"/><circle cx="300.11" cy="298.35" r="3"/><circle cx="277.06" cy="289.95" r="3"/><circle cx="330.49" cy="291.49" r="3"/><circle cx="355.16" cy="281.01" r="3"/><circle cx="329.49" cy="282.13" r="3"/><circle cx="300.45" cy="304.84" r="3"/><circle cx="271.58" cy="283.05" r="3"/><circle cx="265.12" cy="288.21" r="3"/><circle cx="214.70" cy="287.94" r="3"/><circle cx="310.27" cy="306.29" r="3"/><circle cx="258.00" cy="302.57" r="3"/><circle cx="356.19" cy="310.39" r="3"/><circle cx="324.53" cy="301.52" r="3"/><circle cx="329.26" cy="296.59" r="3"/><circle cx="292.00" cy="317.74" r="3"/><circle cx="302.58" cy="299.79" r="3"/><circle cx="354.25" cy="286.43" r="3"/><circle cx="377.04" cy="293.92" r="3"/><circle cx="383.99" cy="299.99" r="3"/><circle cx="361.80" cy="287.25" r="3"/><circle cx="362.72" cy="286.29" r="3"/><circle cx="370.77" cy="281.73" r="3"/><circle cx="372.34" cy="293.58" r="3"/><circle cx="362.91" cy="285.39" r="3"/><circle cx="367.10" cy="296.24" r="3"/><circle cx="382.96" cy="292.48" r="3"/><circle cx="371.36" cy="298.82" r="3"/><circle cx="382.42" cy="282.45" r="3"/><circle cx="380.30" cy="287.86" r="3"/><circle cx="364.59" cy="304.56" r="3"/><circle cx="365.13" cy="288.82" r="3"/><circle cx="371.16" cy="286.84" r="3"/><circle cx="361.14" cy="280.57" r="3"/><circle cx="353.11" cy="288.74" r="3"/><circle cx="382.11" cy="299.50" r="3"/><circle cx="357.26" cy="287.09" r="3"/><circle cx="359.90" cy="279.99" r="3"/><circle cx="357.26" cy="283.19" r="3"/><circle cx="369.84" cy="305.26" r="3"/><circle cx="370.35" cy="301.40" r="3"/><circle cx="356.29" cy="279.74" r="3"/><circle cx="384.12" cy="287.79" r="3"/><circle cx="381.89" cy="284.83" r="3"/><circle cx="382.43" cy="293.97" r="3"/><circle cx="353.92" cy="312.85" r="3"/><circle cx="356.86" cy="279.64" r="3"/><circle cx="379.80" cy="290.04" r="3"/><circle cx="354.01" cy="279.24" r="3"/><circle cx="366.60" cy="282.45" r="3"/><circle cx="364.76" cy="302.44" r="3"/><circle cx="384.83" cy="288.92" r="3"/><circle cx="372.25" cy="303.05" r="3"/><circle cx="379.58" cy="295.81" r="3"/><circle cx="379.47" cy="294.71" r="3"/><circle cx="377.87" cy="300.65" r="3"/><circle cx="363.43" cy="291.19" r="3"/><circle cx="369.13" cy="280.93" r="3"/><circle cx="372.79" cy="279.65" r="3"/><circle cx="381.99" cy="290.81" r="3"/><circle cx="382.73" cy="283.96" r="3"/><circle cx="376.96" cy="298.97" r="3"/><circle cx="125.69" cy="286.37" r="3"/><circle cx="154.22" cy="288.34" r="3"/><circle cx="134.30" cy="285.45" r="3"/><circle cx="155.91" cy="292.96" r="3"/><circle cx="151.72" cy="289.35" r="3"/><circle cx="154.55" cy="292.81" r="3"/><circle cx="171.42" cy="291.25" r="3"/><circle cx="154.54" cy="294.19" r="3"/><circle cx="164.06" cy="290.39" r="3"/><circle cx="140.59" cy="286.55" r="3"/><circle cx="129.56" cy="287.46" r="3"/><circle cx="148.64" cy="287.84" r="3"/><circle cx="169.41" cy="292.51" r="3"/><circle cx="175.11" cy="290.79" r="3"/><circle cx="136.27" cy="288.08" r="3"/><circle cx="160.35" cy="292.76" r="3"/><circle cx="138.02" cy="286.90" r="3"/><circle cx="145.23" cy="291.04" r="3"/><circle cx="162.64" cy="290.42" r="3"/><circle cx="176.11" cy="286.72" r="3"/><circle cx="147.48" cy="288.37" r="3"/><circle cx="111.57" cy="284.02" r="3"/><circle cx="170.37" cy="293.96" r="3"/><circle cx="138.22" cy="286.20" r="3"/><circle cx="150.05" cy="292.59" r="3"/></g>
   <g id="patch_3">
    <path d="M 74.713039 329.392555 
L 200.547768 329.392555 
L 200.547768 213.85533 
L 74.713039 213.85533 
L 74.713039 329.392555 
z
" clip-path="url(#p1e4c1212a1)" style="fill: none; stroke: #ff0000; stroke-width: 1.2; stroke-linejoin: miter"/>
   </g>
   <g id="patch_4">
    <path d="M 213.131241 346.723139 
L 419.102823 346.723139 
L 419.102823 255.205495 
L 213.131241 255.205495 
L 213.131241 346.723139 
z
" clip-path="url(#p1e4c1212a1)" style="fill: none; stroke: #1f9fe6; stroke-width: 1.2; stroke-linejoin: miter"/>
   </g>
   <g id="matplotlib.axis_1">
    <g id="xtick_1">
     <g id="line2d_1">
      <defs>
       <path id="mbfa94b4eaf" d="M 0 0 
L 0 3.5 
" style="stroke: #3c3c3c; stroke-width: 1.1"/>
      </defs>
      <g>
       <use href="#mbfa94b4eaf" x="52.526389" y="352.5" style="fill: #3c3c3c; stroke: #3c3c3c; stroke-width: 1.1"/>
      </g>
     </g>
     <g id="text_1">
      <text style="font-size: 10px; font-family: 'DejaVu Sans', 'Bitstream Vera Sans', 'Computer Modern Sans Serif', 'Lucida Grande', 'Verdana', 'Geneva', 'Lucid', 'Arial', 'Helvetica', 'Avant Garde', sans-serif; text-anchor: middle" x="52.526389" y="367.098437" transform="rotate(-0 52.526389 367.098437)">−60</text>
     </g>
    </g>
    <g id="xtick_2">
     <g id="line2d_2">
      <g>
       <use href="#mbfa94b4eaf" x="118.755194" y="352.5" style="fill: #3c3c3c; stroke: #3c3c3c; stroke-width: 1.1"/>
      </g>
     </g>
     <g id="text_2">
      <text style="font-size: 10px; font-family: 'DejaVu Sans', 'Bitstream Vera Sans', 'Computer Modern Sans Serif', 'Lucida Grande', 'Verdana', 'Geneva', 'Lucid', 'Arial', 'Helvetica', 'Avant Garde', sans-serif; text-anchor: middle" x="118.755194" y="367.098437" transform="rotate(-0 118.755194 367.098437)">−40</text>
     </g>
    </g>
    <g id="xtick_3">
     <g id="line2d_3">
      <g>
       <use href="#mbfa94b4eaf" x="184.983999" y="352.5" style="fill: #3c3c3c; stroke: #3c3c3c; stroke-width: 1.1"/>
      </g>
     </g>
     <g id="text_3">
      <text style="font-size: 10px; font-family: 'DejaVu Sans', 'Bitstream Vera Sans', 'Computer Modern Sans Serif', 'Lucida Grande', 'Verdana', 'Geneva', 'Lucid', 'Arial', 'Helvetica', 'Avant Garde', sans-serif; text-anchor: middle" x="184.983999" y="367.098437" transform="rotate(-0 184.983999 367.098437)">−20</text>
     </g>
    </g>
    <g id="xtick_4">
     <g id="line2d_4">
      <g>
       <use href="#mbfa94b4eaf" x="251.212804" y="352.5" style="fill: #3c3c3c; stroke: #3c3c3c; stroke-width: 1.1"/>
      </g>
     </g>
     <g id="text_4">
      <text style="font-size: 10px; font-family: 'DejaVu Sans', 'Bitstream Vera Sans', 'Computer Modern Sans Serif', 'Lucida Grande', 'Verdana', 'Geneva', 'Lucid', 'Arial', 'Helvetica', 'Avant Garde', sans-serif; text-anchor: middle" x="251.212804" y="367.098437" transform="rotate(-0 251.212804 367.098437)">0</text>
     </g>
    </g>
    <g id="xtick_5">
     <g id="line2d_5">
      <g>
       <use href="#mbfa94b4eaf" x="317.441608" y="352.5" style="fill: #3c3c3c; stroke: #3c3c3c; stroke-width: 1.1"/>
      </g>
     </g>
     <g id="text_5">
      <text style="font-size: 10px; font-family: 'DejaVu Sans', 'Bitstream Vera Sans', 'Computer Modern Sans Serif', 'Lucida Grande', 'Verdana', 'Geneva', 'Lucid', 'Arial', 'Helvetica', 'Avant Garde', sans-serif; text-anchor: middle" x="317.441608" y="367.098437" transform="rotate(-0 317.441608 367.098437)">20</text>
     </g>
    </g>
    <g id="xtick_6">
     <g id="line2d_6">
      <g>
       <use href="#mbfa94b4eaf" x="383.670413" y="352.5" style="fill: #3c3c3c; stroke: #3c3c3c; stroke-width: 1.1"/>
      </g>
     </g>
     <g id="text_6">
      <text style="font-size: 10px; font-family: 'DejaVu Sans', 'Bitstream Vera Sans', 'Computer Modern Sans Serif', 'Lucida Grande', 'Verdana', 'Geneva', 'Lucid', 'Arial', 'Helvetica', 'Avant Garde', sans-serif; text-anchor: middle" x="383.670413" y="367.098437" transform="rotate(-0 383.670413 367.098437)">40</text>
     </g>
    </g>
    <g id="xtick_7">
     <g id="line2d_7">
      <g>
       <use href="#mbfa94b4eaf" x="449.899218" y="352.5" style="fill: #3c3c3c; stroke: #3c3c3c; stroke-width: 1.1"/>
      </g>
     </g>
     <g id="text_7">
      <text style="font-size: 10px; font-family: 'DejaVu Sans', 'Bitstream Vera Sans', 'Computer Modern Sans Serif', 'Lucida Grande', 'Verdana', 'Geneva', 'Lucid', 'Arial', 'Helvetica', 'Avant Garde', sans-serif; text-anchor: middle" x="449.899218" y="367.098437" transform="rotate(-0 449.899218 367.098437)">60</text>
     </g>
    </g>
   </g>
   <g id="matplotlib.axis_2">
    <g id="ytick_1">
     <g id="line2d_8">
      <defs>
       <path id="mdcce1bf00d" d="M 0 0 
L -3.5 0 
" style="stroke: #3c3c3c; stroke-width: 1.1"/>
      </defs>
      <g>
       <use href="#mdcce1bf00d" x="33.088235" y="334.865371" style="fill: #3c3c3c; stroke: #3c3c3c; stroke-width: 1.1"/>
      </g>
     </g>
     <g id="text_8">
      <text style="font-size: 10px; font-family: 'DejaVu Sans', 'Bitstream Vera Sans', 'Computer Modern Sans Serif', 'Lucida Grande', 'Verdana', 'Geneva', 'Lucid', 'Arial', 'Helvetica', 'Avant Garde', sans-serif; text-anchor: end" x="26.088235" y="338.66459" transform="rotate(-0 26.088235 338.66459)">−20</text>
     </g>
    </g>
    <g id="ytick_2">
     <g id="line2d_9">
      <g>
       <use href="#mdcce1bf00d" x="33.088235" y="274.056305" style="fill: #3c3c3c; stroke: #3c3c3c; stroke-width: 1.1"/>
      </g>
     </g>
     <g id="text_9">
      <text style="font-size: 10px; font-family: 'DejaVu Sans', 'Bitstream Vera Sans', 'Computer Modern Sans Serif', 'Lucida Grande', 'Verdana', 'Geneva', 'Lucid', 'Arial', 'Helvetica', 'Avant Garde', sans-serif; text-anchor: end" x="26.088235" y="277.855524" transform="rotate(-0 26.088235 277.855524)">0</text>
     </g>
    </g>
    <g id="ytick_3">
     <g id="line2d_10">
      <g>
       <use href="#mdcce1bf00d" x="33.088235" y="213.24724" style="fill: #3c3c3c; stroke: #3c3c3c; stroke-width: 1.1"/>
      </g>
     </g>
     <g id="text_10">
      <text style="font-size: 10px; font-family: 'DejaVu Sans', 'Bitstream Vera Sans', 'Computer Modern Sans Serif', 'Lucida Grande', 'Verdana', 'Geneva', 'Lucid', 'Arial', 'Helvetica', 'Avant Garde', sans-serif; text-anchor: end" x="26.088235" y="217.046458" transform="rotate(-0 26.088235 217.046458)">20</text>
     </g>
    </g>
    <g id="ytick_4">
     <g id="line2d_11">
      <g>
       <use href="#mdcce1bf00d" x="33.088235" y="152.438174" style="fill: #3c3c3c; stroke: #3c3c3c; stroke-width: 1.1"/>
      </g>
     </g>
     <g id="text_11">
      <text style="font-size: 10px; font-family: 'DejaVu Sans', 'Bitstream Vera Sans', 'Computer Modern Sans Serif', 'Lucida Grande', 'Verdana', 'Geneva', 'Lucid', 'Arial', 'Helvetica', 'Avant Garde', sans-serif; text-anchor: end" x="26.088235" y="156.237393" transform="rotate(-0 26.088235 156.237393)">40</text>
     </g>
    </g>
    <g id="ytick_5">
     <g id="line2d_12">
      <g>
       <use href="#mdcce1bf00d" x="33.088235" y="91.629108" style="fill: #3c3c3c; stroke: #3c3c3c; stroke-width: 1.1"/>
      </g>
     </g>
     <g id="text_12">
      <text style="font-size: 10px; font-family: 'DejaVu Sans', 'Bitstream Vera Sans', 'Computer Modern Sans Serif', 'Lucida Grande', 'Verdana', 'Geneva', 'Lucid', 'Arial', 'Helvetica', 'Avant Garde', sans-serif; text-anchor: end" x="26.088235" y="95.428327" transform="rotate(-0 26.088235 95.428327)">60</text>
     </g>
    </g>
    <g id="ytick_6">
     <g id="line2d_13">
      <g>
       <use href="#mdcce1bf00d" x="33.088235" y="30.820043" style="fill: #3c3c3c; stroke: #3c3c3c; stroke-width: 1.1"/>
      </g>
     </g>
     <g id="text_13">
      <text style="font-size: 10px; font-family: 'DejaVu Sans', 'Bitstream Vera Sans', 'Computer Modern Sans Serif', 'Lucida Grande', 'Verdana', 'Geneva', 'Lucid', 'Arial', 'Helvetica', 'Avant Garde', sans-serif; text-anchor: end" x="26.088235" y="34.619261" transform="rotate(-0 26.088235 34.619261)">80</text>
     </g>
    </g>
   </g>
   <g id="patch_5">
    <path d="M 33.088235 352.5 
L 33.088235 20.117647 
" style="fill: none; stroke: #3c3c3c; stroke-width: 1.25; stroke-linejoin: miter; stroke-linecap: square"/>
   </g>
   <g id="patch_6">
    <path d="M 479.735294 352.5 
L 479.735294 20.117647 
" style="fill: none; stroke: #3c3c3c; stroke-width: 1.25; stroke-linejoin: miter; stroke-linecap: square"/>
   </g>
   <g id="patch_7">
    <path d="M 33.088235 352.5 
L 479.735294 352.5 
" style="fill: none; stroke: #3c3c3c; stroke-width: 1.25; stroke-linejoin: miter; stroke-linecap: square"/>
   </g>
   <g id="patch_8">
    <path d="M 33.088235 20.117647 
L 479.735294 20.117647 
" style="fill: none; stroke: #3c3c3c; stroke-width: 1.25; stroke-linejoin: miter; stroke-linecap: square"/>
   </g>
   <g id="text_14">
    <text style="font-size: 12px; font-family: 'DejaVu Sans', 'Bitstream Vera Sans', 'Computer Modern Sans Serif', 'Lucida Grande', 'Verdana', 'Geneva', 'Lucid', 'Arial', 'Helvetica', 'Avant Garde', sans-serif; text-anchor: middle" x="256.411765" y="14.117647" transform="rotate(-0 256.411765 14.117647)">PCA Reduced Data Colored by True Labels</text>
   </g>
   <g id="legend_1">
    <g id="patch_9">
     <path d="M 40.088235 73.252022 
L 109.008548 73.252022 
Q 111.008548 73.252022 111.008548 71.252022 
L 111.008548 27.117647 
Q 111.008548 25.117647 109.008548 25.117647 
L 40.088235 25.117647 
Q 38.088235 25.117647 38.088235 27.117647 
L 38.088235 71.252022 
Q 38.088235 73.252022 40.088235 73.252022 
z
" style="fill: #ffffff; opacity: 0.8; stroke: #cccccc; stroke-linejoin: miter"/>
    </g>
    <g id="PathCollection_4">
     <g>
      <use href="#m00aa279ec9" x="52.288235" y="34.291085" style="fill: #1f77b4; fill-opacity: 0.8; stroke: #1f77b4; stroke-opacity: 0.8"/>
     </g>
    </g>
    <g id="text_15">
     <text style="font-size: 10px; font-family: 'DejaVu Sans', 'Bitstream Vera Sans', 'Computer Modern Sans Serif', 'Lucida Grande', 'Verdana', 'Geneva', 'Lucid', 'Arial', 'Helvetica', 'Avant Garde', sans-serif; text-anchor: start" x="70.288235" y="36.916085" transform="rotate(-0 70.288235 36.916085)">Label 0</text>
    </g>
    <g id="PathCollection_5">
     <g>
      <use href="#mf7519e3ce1" x="52.288235" y="49.31921" style="fill: #ff7f0e; fill-opacity: 0.8; stroke: #ff7f0e; stroke-opacity: 0.8"/>
     </g>
    </g>
    <g id="text_16">
     <text style="font-size: 10px; font-family: 'DejaVu Sans', 'Bitstream Vera Sans', 'Computer Modern Sans Serif', 'Lucida Grande', 'Verdana', 'Geneva', 'Lucid', 'Arial', 'Helvetica', 'Avant Garde', sans-serif; text-anchor: start" x="70.288235" y="51.94421" transform="rotate(-0 70.288235 51.94421)">Label 1</text>
    </g>
    <g id="PathCollection_6">
     <g>
      <use href="#m7f0def6abd" x="52.288235" y="64.347335" style="fill: #2ca02c; fill-opacity: 0.8; stroke: #2ca02c; stroke-opacity: 0.8"/>
     </g>
    </g>
    <g id="text_17">
     <text style="font-size: 10px; font-family: 'DejaVu Sans', 'Bitstream Vera Sans', 'Computer Modern Sans Serif', 'Lucida Grande', 'Verdana', 'Geneva', 'Lucid', 'Arial', 'Helvetica', 'Avant Garde', sans-serif; text-anchor: start" x="70.288235" y="66.972335" transform="rotate(-0 70.288235 66.972335)">Label 2</text>
    </g>
   </g>
  </g>
 </g>
 <defs>
  <clipPath id="p1e4c1212a1">
   <rect x="33.088235" y="20.117647" width="446.647059" height="332.382353"/>
  </clipPath>
 </defs>
</svg>

</body></html>
